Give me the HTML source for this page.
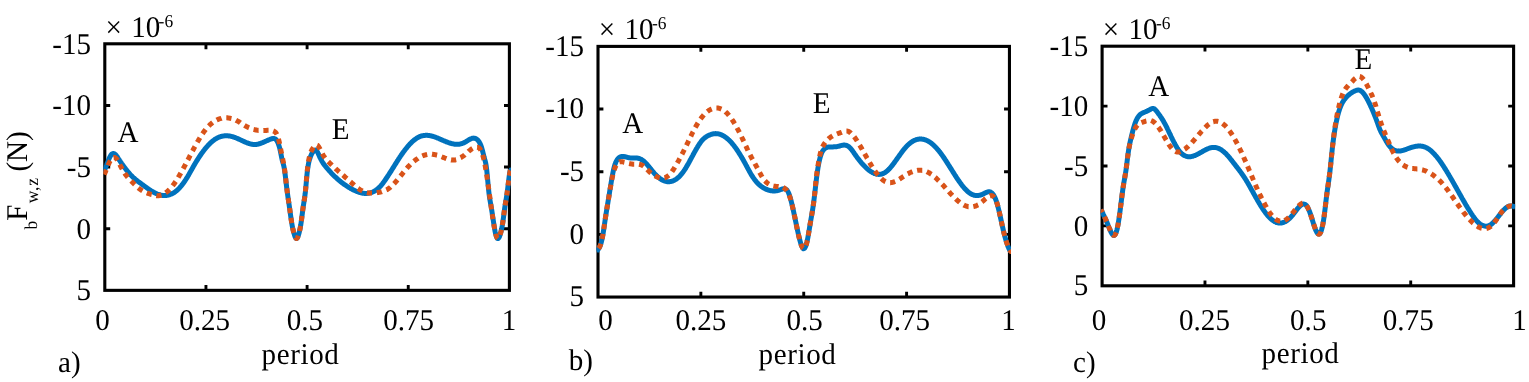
<!DOCTYPE html>
<html lang="en"><head><meta charset="utf-8"><title>Force over period</title>
<style>html,body{margin:0;padding:0;background:#fff}body{width:1529px;height:382px;overflow:hidden}svg{display:block}text{font-family:"Liberation Serif","Times New Roman",serif;fill:#000;text-rendering:geometricPrecision}</style>
</head><body>
<svg width="1529" height="382" viewBox="0 0 1529 382">
<rect x="0" y="0" width="1529" height="382" fill="#fff"/>
<g>
<rect x="104.80" y="43.80" width="404.60" height="246.55" fill="none" stroke="#000" stroke-width="3.10"/>
<path d="M205.95 290.35v-5.40M205.95 43.80v5.40M104.80 105.44h5.40M509.40 105.44h-5.40M307.10 290.35v-5.40M307.10 43.80v5.40M104.80 167.07h5.40M509.40 167.07h-5.40M408.25 290.35v-5.40M408.25 43.80v5.40M104.80 228.71h5.40M509.40 228.71h-5.40" stroke="#000" stroke-width="2.90" fill="none"/>
<clipPath id="clipa"><rect x="103.25" y="42.25" width="407.70" height="249.65"/></clipPath>
<g clip-path="url(#clipa)" fill="none" stroke-linejoin="round">
<path d="M103.2 172.6L103.7 171.8L104.2 170.8L104.7 169.8L105.2 168.6L105.7 167.4L106.2 166.1L106.7 164.8L107.2 163.4L107.7 162.1L108.2 160.8L108.7 159.6L109.2 158.4L109.7 157.3L110.2 156.3L110.7 155.5L111.2 154.8L111.7 154.2L112.2 153.9L112.7 153.6L113.2 153.5L113.7 153.5L114.2 153.7L114.7 154.0L115.2 154.3L115.7 154.8L116.2 155.4L116.7 156.0L117.2 156.8L117.7 157.5L118.2 158.3L118.7 159.1L119.2 159.8L119.7 160.6L120.2 161.3L120.7 162.1L121.2 162.8L121.7 163.6L122.2 164.3L122.7 165.0L123.2 165.7L123.7 166.4L124.2 167.0L124.7 167.7L125.2 168.4L125.7 169.0L126.2 169.7L126.7 170.3L127.2 170.9L127.7 171.5L128.2 172.1L128.7 172.7L129.2 173.3L129.7 173.8L130.2 174.4L130.7 174.9L131.2 175.4L131.7 176.0L132.2 176.5L132.7 176.9L133.2 177.4L133.7 177.9L134.2 178.3L134.7 178.8L135.2 179.2L135.7 179.6L136.2 180.0L136.7 180.4L137.2 180.8L137.7 181.2L138.2 181.6L138.7 181.9L139.2 182.3L139.7 182.7L140.2 183.0L140.7 183.4L141.2 183.7L141.7 184.1L142.2 184.5L142.7 184.8L143.2 185.2L143.7 185.6L144.2 185.9L144.7 186.3L145.2 186.6L145.7 187.0L146.2 187.4L146.7 187.7L147.2 188.1L147.7 188.4L148.2 188.8L148.7 189.1L149.2 189.5L149.7 189.8L150.2 190.1L150.7 190.5L151.2 190.8L151.7 191.1L152.2 191.4L152.7 191.7L153.2 192.0L153.7 192.3L154.2 192.5L154.7 192.8L155.2 193.1L155.7 193.3L156.2 193.5L156.7 193.8L157.2 194.0L157.7 194.2L158.2 194.4L158.7 194.5L159.2 194.7L159.7 194.8L160.2 195.0L160.7 195.1L161.2 195.2L161.7 195.3L162.2 195.4L162.7 195.4L163.2 195.5L163.7 195.5L164.2 195.5L164.7 195.5L165.2 195.5L165.7 195.5L166.2 195.4L166.7 195.4L167.2 195.3L167.7 195.2L168.2 195.1L168.7 195.0L169.2 194.9L169.7 194.7L170.2 194.5L170.7 194.3L171.2 194.1L171.7 193.9L172.2 193.6L172.7 193.4L173.2 193.1L173.7 192.8L174.2 192.5L174.7 192.1L175.2 191.8L175.7 191.4L176.2 191.0L176.7 190.6L177.2 190.2L177.7 189.7L178.2 189.2L178.7 188.7L179.2 188.2L179.7 187.7L180.2 187.1L180.7 186.6L181.2 186.0L181.7 185.3L182.2 184.7L182.7 184.0L183.2 183.4L183.7 182.7L184.2 182.0L184.7 181.2L185.2 180.5L185.7 179.7L186.2 178.9L186.7 178.1L187.2 177.3L187.7 176.5L188.2 175.6L188.7 174.8L189.2 173.9L189.7 173.0L190.2 172.1L190.7 171.2L191.2 170.4L191.7 169.5L192.2 168.6L192.7 167.7L193.2 166.8L193.7 165.9L194.2 165.1L194.7 164.2L195.2 163.4L195.7 162.5L196.2 161.7L196.7 160.9L197.2 160.1L197.7 159.3L198.2 158.5L198.7 157.7L199.2 157.0L199.7 156.2L200.2 155.5L200.7 154.8L201.2 154.0L201.7 153.3L202.2 152.6L202.7 152.0L203.2 151.3L203.7 150.6L204.2 150.0L204.7 149.4L205.2 148.7L205.7 148.1L206.2 147.5L206.7 146.9L207.2 146.4L207.7 145.8L208.2 145.3L208.7 144.8L209.2 144.2L209.7 143.7L210.2 143.3L210.7 142.8L211.2 142.3L211.7 141.9L212.2 141.5L212.7 141.0L213.2 140.6L213.7 140.3L214.2 139.9L214.7 139.5L215.2 139.2L215.7 138.9L216.2 138.6L216.7 138.3L217.2 138.0L217.7 137.8L218.2 137.5L218.7 137.3L219.2 137.1L219.7 136.9L220.2 136.7L220.7 136.6L221.2 136.4L221.7 136.3L222.2 136.2L222.7 136.1L223.2 136.0L223.7 135.9L224.2 135.9L224.7 135.8L225.2 135.8L225.7 135.8L226.2 135.8L226.7 135.8L227.2 135.8L227.7 135.8L228.2 135.9L228.7 135.9L229.2 136.0L229.7 136.1L230.2 136.1L230.7 136.2L231.2 136.4L231.7 136.5L232.2 136.6L232.7 136.8L233.2 136.9L233.7 137.1L234.2 137.2L234.7 137.4L235.2 137.6L235.7 137.8L236.2 138.0L236.7 138.2L237.2 138.4L237.7 138.6L238.2 138.9L238.7 139.1L239.2 139.3L239.7 139.5L240.2 139.8L240.7 140.0L241.2 140.2L241.7 140.5L242.2 140.7L242.7 140.9L243.2 141.2L243.7 141.4L244.2 141.6L244.7 141.9L245.2 142.1L245.7 142.3L246.2 142.5L246.7 142.7L247.2 142.9L247.7 143.1L248.2 143.3L248.7 143.4L249.2 143.6L249.7 143.7L250.2 143.9L250.7 144.0L251.2 144.1L251.7 144.2L252.2 144.3L252.7 144.4L253.2 144.4L253.7 144.5L254.2 144.5L254.7 144.5L255.2 144.5L255.7 144.5L256.2 144.4L256.7 144.4L257.2 144.3L257.7 144.2L258.2 144.1L258.7 144.0L259.2 143.8L259.7 143.7L260.2 143.5L260.7 143.3L261.2 143.2L261.7 143.0L262.2 142.8L262.7 142.6L263.2 142.4L263.7 142.1L264.2 141.9L264.7 141.7L265.2 141.5L265.7 141.2L266.2 141.0L266.7 140.8L267.2 140.6L267.7 140.4L268.2 140.1L268.7 139.9L269.2 139.7L269.7 139.5L270.2 139.3L270.7 139.1L271.2 139.0L271.7 138.8L272.2 138.7L272.7 138.5L273.2 138.5L273.7 138.5L274.2 138.5L274.7 138.7L275.2 138.9L275.7 139.3L276.2 139.8L276.7 140.4L277.2 141.3L277.7 142.2L278.2 143.4L278.7 144.8L279.2 146.4L279.7 148.2L280.2 150.3L280.7 152.7L281.2 155.2L281.7 157.7L282.2 160.0L282.7 161.9L283.2 163.7L283.7 165.6L284.2 168.0L284.7 171.2L285.2 174.9L285.7 179.1L286.2 183.4L286.7 187.6L287.2 191.5L287.7 195.2L288.2 198.6L288.7 201.9L289.2 205.3L289.7 208.9L290.2 212.5L290.7 216.2L291.2 219.6L291.7 222.9L292.2 225.7L292.7 228.2L293.2 230.4L293.7 232.4L294.2 234.1L294.7 235.7L295.2 237.0L295.7 238.0L296.2 238.5L296.7 238.5L297.2 238.0L297.7 237.1L298.2 235.8L298.7 234.2L299.2 232.5L299.7 230.4L300.2 228.1L300.7 225.3L301.2 222.0L301.7 218.3L302.2 214.4L302.7 210.5L303.2 206.8L303.7 203.6L304.2 200.5L304.7 197.2L305.2 193.4L305.7 188.7L306.2 183.1L306.7 177.5L307.2 172.5L307.7 168.5L308.2 165.3L308.7 162.7L309.2 160.7L309.7 158.9L310.2 157.4L310.7 156.1L311.2 154.9L311.7 153.9L312.2 153.0L312.7 152.2L313.2 151.5L313.7 150.9L314.2 150.4L314.7 150.1L315.2 150.0L315.7 150.1L316.2 150.4L316.7 150.9L317.2 151.6L317.7 152.5L318.2 153.5L318.7 154.6L319.2 155.8L319.7 156.9L320.2 158.0L320.7 159.0L321.2 159.9L321.7 160.8L322.2 161.7L322.7 162.5L323.2 163.3L323.7 164.0L324.2 164.7L324.7 165.4L325.2 166.0L325.7 166.6L326.2 167.2L326.7 167.8L327.2 168.4L327.7 169.0L328.2 169.6L328.7 170.1L329.2 170.7L329.7 171.3L330.2 171.8L330.7 172.3L331.2 172.9L331.7 173.4L332.2 173.9L332.7 174.4L333.2 174.9L333.7 175.4L334.2 175.9L334.7 176.4L335.2 176.9L335.7 177.3L336.2 177.8L336.7 178.3L337.2 178.7L337.7 179.2L338.2 179.6L338.7 180.0L339.2 180.4L339.7 180.9L340.2 181.3L340.7 181.7L341.2 182.1L341.7 182.5L342.2 182.8L342.7 183.2L343.2 183.6L343.7 184.0L344.2 184.3L344.7 184.7L345.2 185.0L345.7 185.4L346.2 185.7L346.7 186.0L347.2 186.4L347.7 186.7L348.2 187.0L348.7 187.3L349.2 187.6L349.7 187.9L350.2 188.2L350.7 188.5L351.2 188.8L351.7 189.0L352.2 189.3L352.7 189.6L353.2 189.8L353.7 190.1L354.2 190.3L354.7 190.5L355.2 190.8L355.7 191.0L356.2 191.2L356.7 191.4L357.2 191.6L357.7 191.8L358.2 192.0L358.7 192.2L359.2 192.3L359.7 192.5L360.2 192.6L360.7 192.8L361.2 192.9L361.7 193.0L362.2 193.1L362.7 193.2L363.2 193.2L363.7 193.3L364.2 193.4L364.7 193.4L365.2 193.4L365.7 193.4L366.2 193.4L366.7 193.4L367.2 193.4L367.7 193.3L368.2 193.3L368.7 193.2L369.2 193.1L369.7 193.0L370.2 192.9L370.7 192.7L371.2 192.6L371.7 192.4L372.2 192.2L372.7 192.0L373.2 191.8L373.7 191.5L374.2 191.3L374.7 191.0L375.2 190.7L375.7 190.3L376.2 190.0L376.7 189.6L377.2 189.2L377.7 188.8L378.2 188.4L378.7 187.9L379.2 187.5L379.7 187.0L380.2 186.4L380.7 185.9L381.2 185.3L381.7 184.7L382.2 184.1L382.7 183.5L383.2 182.8L383.7 182.1L384.2 181.4L384.7 180.7L385.2 180.0L385.7 179.3L386.2 178.5L386.7 177.8L387.2 177.0L387.7 176.3L388.2 175.5L388.7 174.7L389.2 173.9L389.7 173.2L390.2 172.4L390.7 171.6L391.2 170.8L391.7 170.0L392.2 169.2L392.7 168.4L393.2 167.6L393.7 166.8L394.2 166.0L394.7 165.2L395.2 164.4L395.7 163.6L396.2 162.8L396.7 162.0L397.2 161.2L397.7 160.5L398.2 159.7L398.7 158.9L399.2 158.1L399.7 157.4L400.2 156.6L400.7 155.9L401.2 155.2L401.7 154.4L402.2 153.7L402.7 153.0L403.2 152.3L403.7 151.6L404.2 151.0L404.7 150.3L405.2 149.6L405.7 149.0L406.2 148.4L406.7 147.8L407.2 147.1L407.7 146.5L408.2 146.0L408.7 145.4L409.2 144.8L409.7 144.3L410.2 143.8L410.7 143.2L411.2 142.7L411.7 142.3L412.2 141.8L412.7 141.3L413.2 140.9L413.7 140.5L414.2 140.0L414.7 139.7L415.2 139.3L415.7 138.9L416.2 138.6L416.7 138.2L417.2 137.9L417.7 137.6L418.2 137.4L418.7 137.1L419.2 136.9L419.7 136.6L420.2 136.4L420.7 136.3L421.2 136.1L421.7 135.9L422.2 135.8L422.7 135.7L423.2 135.6L423.7 135.5L424.2 135.4L424.7 135.4L425.2 135.4L425.7 135.3L426.2 135.3L426.7 135.3L427.2 135.3L427.7 135.4L428.2 135.4L428.7 135.5L429.2 135.5L429.7 135.6L430.2 135.7L430.7 135.8L431.2 135.9L431.7 136.1L432.2 136.2L432.7 136.3L433.2 136.5L433.7 136.6L434.2 136.8L434.7 137.0L435.2 137.1L435.7 137.3L436.2 137.5L436.7 137.7L437.2 137.9L437.7 138.1L438.2 138.3L438.7 138.5L439.2 138.7L439.7 139.0L440.2 139.2L440.7 139.4L441.2 139.6L441.7 139.8L442.2 140.1L442.7 140.3L443.2 140.5L443.7 140.7L444.2 140.9L444.7 141.1L445.2 141.3L445.7 141.5L446.2 141.8L446.7 141.9L447.2 142.1L447.7 142.3L448.2 142.5L448.7 142.7L449.2 142.9L449.7 143.0L450.2 143.2L450.7 143.3L451.2 143.5L451.7 143.6L452.2 143.7L452.7 143.8L453.2 143.9L453.7 144.0L454.2 144.1L454.7 144.2L455.2 144.2L455.7 144.3L456.2 144.3L456.7 144.3L457.2 144.3L457.7 144.3L458.2 144.3L458.7 144.2L459.2 144.2L459.7 144.1L460.2 144.0L460.7 143.9L461.2 143.8L461.7 143.6L462.2 143.5L462.7 143.3L463.2 143.1L463.7 142.9L464.2 142.6L464.7 142.4L465.2 142.1L465.7 141.8L466.2 141.5L466.7 141.2L467.2 140.9L467.7 140.6L468.2 140.2L468.7 139.9L469.2 139.6L469.7 139.4L470.2 139.1L470.7 138.9L471.2 138.7L471.7 138.5L472.2 138.3L472.7 138.2L473.2 138.2L473.7 138.1L474.2 138.2L474.7 138.3L475.2 138.4L475.7 138.6L476.2 138.9L476.7 139.2L477.2 139.6L477.7 140.1L478.2 140.6L478.7 141.3L479.2 142.0L479.7 142.9L480.2 143.9L480.7 145.0L481.2 146.3L481.7 147.8L482.2 149.6L482.7 151.5L483.2 153.5L483.7 155.5L484.2 157.5L484.7 159.3L485.2 161.0L485.7 163.1L486.2 166.0L486.7 169.8L487.2 174.8L487.7 180.3L488.2 185.8L488.7 190.8L489.2 194.9L489.7 198.3L490.2 201.3L490.7 204.1L491.2 206.9L491.7 210.0L492.2 213.2L492.7 216.5L493.2 219.9L493.7 223.2L494.2 226.4L494.7 229.3L495.2 232.0L495.7 234.2L496.2 236.0L496.7 237.3L497.2 238.2L497.7 238.6L498.2 238.5L498.7 238.0L499.2 237.2L499.7 236.0L500.2 234.5L500.7 232.8L501.2 230.8L501.7 228.6L502.2 226.0L502.7 223.0L503.2 219.6L503.7 215.8L504.2 211.9L504.7 208.2L505.2 204.9L505.7 201.9L506.2 199.0L506.7 195.9L507.2 192.4L507.7 188.6L508.2 184.4L508.7 180.3L509.2 176.4L509.7 173.2L510.2 171.0L510.7 170.2L511.2 171.1L511.4 172.0" stroke="#0072BD" stroke-width="5.00" stroke-linecap="butt"/>
<path d="M103.2 177.0L103.7 176.0L104.2 174.8L104.7 173.6L105.2 172.4L105.7 171.2L106.2 169.9L106.7 168.7L107.2 167.4L107.7 166.2L108.2 165.0L108.7 163.9L109.2 162.8L109.7 161.7L110.2 160.8L110.7 160.0L111.2 159.2L111.7 158.6L112.2 158.1L112.7 157.7L113.2 157.5L113.7 157.4L114.2 157.4L114.7 157.5L115.2 157.7L115.7 158.1L116.2 158.5L116.7 159.1L117.2 159.7L117.7 160.5L118.2 161.3L118.7 162.2L119.2 163.2L119.7 164.2L120.2 165.3L120.7 166.3L121.2 167.3L121.7 168.2L122.2 169.1L122.7 170.0L123.2 170.9L123.7 171.7L124.2 172.5L124.7 173.2L125.2 174.0L125.7 174.7L126.2 175.3L126.7 176.0L127.2 176.6L127.7 177.3L128.2 177.9L128.7 178.4L129.2 179.0L129.7 179.5L130.2 180.1L130.7 180.6L131.2 181.1L131.7 181.6L132.2 182.1L132.7 182.6L133.2 183.1L133.7 183.6L134.2 184.1L134.7 184.6L135.2 185.1L135.7 185.5L136.2 186.0L136.7 186.5L137.2 186.9L137.7 187.4L138.2 187.8L138.7 188.2L139.2 188.6L139.7 189.0L140.2 189.4L140.7 189.7L141.2 190.1L141.7 190.4L142.2 190.7L142.7 191.0L143.2 191.3L143.7 191.5L144.2 191.8L144.7 192.0L145.2 192.2L145.7 192.5L146.2 192.7L146.7 192.9L147.2 193.1L147.7 193.3L148.2 193.4L148.7 193.6L149.2 193.8L149.7 194.0L150.2 194.1L150.7 194.3L151.2 194.5L151.7 194.6L152.2 194.8L152.7 194.9L153.2 195.1L153.7 195.2L154.2 195.3L154.7 195.4L155.2 195.5L155.7 195.6L156.2 195.6L156.7 195.7L157.2 195.7L157.7 195.7L158.2 195.7L158.7 195.7L159.2 195.6L159.7 195.5L160.2 195.4L160.7 195.3L161.2 195.1L161.7 195.0L162.2 194.8L162.7 194.5L163.2 194.3L163.7 194.0L164.2 193.8L164.7 193.5L165.2 193.1L165.7 192.8L166.2 192.4L166.7 192.0L167.2 191.6L167.7 191.2L168.2 190.7L168.7 190.3L169.2 189.8L169.7 189.3L170.2 188.7L170.7 188.2L171.2 187.6L171.7 187.0L172.2 186.4L172.7 185.7L173.2 185.1L173.7 184.4L174.2 183.7L174.7 183.0L175.2 182.2L175.7 181.5L176.2 180.7L176.7 179.9L177.2 179.1L177.7 178.3L178.2 177.5L178.7 176.6L179.2 175.8L179.7 174.9L180.2 174.1L180.7 173.2L181.2 172.3L181.7 171.4L182.2 170.5L182.7 169.6L183.2 168.7L183.7 167.8L184.2 166.8L184.7 165.9L185.2 165.0L185.7 164.0L186.2 163.1L186.7 162.1L187.2 161.2L187.7 160.2L188.2 159.3L188.7 158.3L189.2 157.4L189.7 156.4L190.2 155.4L190.7 154.5L191.2 153.5L191.7 152.6L192.2 151.6L192.7 150.7L193.2 149.7L193.7 148.8L194.2 147.9L194.7 146.9L195.2 146.0L195.7 145.1L196.2 144.2L196.7 143.3L197.2 142.4L197.7 141.5L198.2 140.7L198.7 139.8L199.2 139.0L199.7 138.1L200.2 137.3L200.7 136.5L201.2 135.7L201.7 135.0L202.2 134.2L202.7 133.5L203.2 132.7L203.7 132.0L204.2 131.4L204.7 130.7L205.2 130.1L205.7 129.4L206.2 128.8L206.7 128.2L207.2 127.7L207.7 127.1L208.2 126.6L208.7 126.0L209.2 125.5L209.7 125.1L210.2 124.6L210.7 124.1L211.2 123.7L211.7 123.3L212.2 122.9L212.7 122.5L213.2 122.1L213.7 121.8L214.2 121.5L214.7 121.1L215.2 120.8L215.7 120.6L216.2 120.3L216.7 120.0L217.2 119.8L217.7 119.6L218.2 119.3L218.7 119.1L219.2 119.0L219.7 118.8L220.2 118.6L220.7 118.5L221.2 118.4L221.7 118.2L222.2 118.1L222.7 118.0L223.2 118.0L223.7 117.9L224.2 117.9L224.7 117.8L225.2 117.8L225.7 117.8L226.2 117.8L226.7 117.8L227.2 117.8L227.7 117.9L228.2 117.9L228.7 118.0L229.2 118.1L229.7 118.2L230.2 118.3L230.7 118.4L231.2 118.5L231.7 118.6L232.2 118.8L232.7 119.0L233.2 119.1L233.7 119.3L234.2 119.5L234.7 119.7L235.2 119.9L235.7 120.1L236.2 120.4L236.7 120.6L237.2 120.9L237.7 121.2L238.2 121.4L238.7 121.7L239.2 122.0L239.7 122.3L240.2 122.6L240.7 123.0L241.2 123.3L241.7 123.6L242.2 123.9L242.7 124.2L243.2 124.6L243.7 124.9L244.2 125.2L244.7 125.5L245.2 125.8L245.7 126.1L246.2 126.4L246.7 126.7L247.2 126.9L247.7 127.2L248.2 127.4L248.7 127.7L249.2 127.9L249.7 128.1L250.2 128.3L250.7 128.5L251.2 128.7L251.7 128.9L252.2 129.1L252.7 129.2L253.2 129.4L253.7 129.5L254.2 129.6L254.7 129.8L255.2 129.9L255.7 130.0L256.2 130.1L256.7 130.1L257.2 130.2L257.7 130.3L258.2 130.4L258.7 130.4L259.2 130.5L259.7 130.5L260.2 130.5L260.7 130.5L261.2 130.6L261.7 130.6L262.2 130.6L262.7 130.6L263.2 130.6L263.7 130.6L264.2 130.5L264.7 130.5L265.2 130.5L265.7 130.4L266.2 130.4L266.7 130.4L267.2 130.3L267.7 130.3L268.2 130.2L268.7 130.2L269.2 130.2L269.7 130.2L270.2 130.2L270.7 130.3L271.2 130.3L271.7 130.4L272.2 130.6L272.7 130.7L273.2 130.9L273.7 131.1L274.2 131.4L274.7 131.7L275.2 132.1L275.7 132.6L276.2 133.2L276.7 134.0L277.2 135.0L277.7 136.3L278.2 137.9L278.7 139.7L279.2 141.9L279.7 144.3L280.2 146.8L280.7 149.3L281.2 151.8L281.7 154.2L282.2 156.6L282.7 159.0L283.2 161.4L283.7 163.9L284.2 166.7L284.7 170.1L285.2 174.2L285.7 178.6L286.2 183.2L286.7 187.6L287.2 191.6L287.7 195.2L288.2 198.7L288.7 202.0L289.2 205.4L289.7 208.9L290.2 212.5L290.7 216.1L291.2 219.6L291.7 222.8L292.2 225.7L292.7 228.2L293.2 230.4L293.7 232.4L294.2 234.1L294.7 235.7L295.2 237.0L295.7 238.0L296.2 238.5L296.7 238.5L297.2 238.0L297.7 237.1L298.2 235.8L298.7 234.3L299.2 232.5L299.7 230.4L300.2 228.0L300.7 225.3L301.2 222.0L301.7 218.3L302.2 214.4L302.7 210.5L303.2 206.9L303.7 203.7L304.2 200.6L304.7 197.3L305.2 193.4L305.7 188.5L306.2 182.7L306.7 176.6L307.2 171.2L307.7 166.8L308.2 163.1L308.7 160.2L309.2 157.8L309.7 155.7L310.2 154.0L310.7 152.5L311.2 151.3L311.7 150.2L312.2 149.3L312.7 148.5L313.2 147.7L313.7 147.0L314.2 146.4L314.7 145.8L315.2 145.4L315.7 145.1L316.2 145.0L316.7 145.0L317.2 145.2L317.7 145.5L318.2 146.1L318.7 146.8L319.2 147.6L319.7 148.5L320.2 149.4L320.7 150.4L321.2 151.4L321.7 152.5L322.2 153.4L322.7 154.4L323.2 155.2L323.7 156.1L324.2 156.8L324.7 157.5L325.2 158.2L325.7 158.8L326.2 159.4L326.7 160.0L327.2 160.6L327.7 161.1L328.2 161.6L328.7 162.1L329.2 162.6L329.7 163.1L330.2 163.6L330.7 164.0L331.2 164.5L331.7 165.0L332.2 165.5L332.7 165.9L333.2 166.4L333.7 166.9L334.2 167.3L334.7 167.8L335.2 168.2L335.7 168.7L336.2 169.2L336.7 169.6L337.2 170.1L337.7 170.5L338.2 171.0L338.7 171.4L339.2 171.9L339.7 172.3L340.2 172.7L340.7 173.2L341.2 173.6L341.7 174.1L342.2 174.5L342.7 175.0L343.2 175.4L343.7 175.8L344.2 176.3L344.7 176.7L345.2 177.2L345.7 177.6L346.2 178.0L346.7 178.5L347.2 178.9L347.7 179.4L348.2 179.8L348.7 180.2L349.2 180.7L349.7 181.1L350.2 181.6L350.7 182.0L351.2 182.5L351.7 182.9L352.2 183.4L352.7 183.8L353.2 184.3L353.7 184.7L354.2 185.2L354.7 185.6L355.2 186.0L355.7 186.5L356.2 186.9L356.7 187.3L357.2 187.7L357.7 188.1L358.2 188.4L358.7 188.8L359.2 189.1L359.7 189.5L360.2 189.8L360.7 190.1L361.2 190.4L361.7 190.7L362.2 190.9L362.7 191.2L363.2 191.4L363.7 191.6L364.2 191.8L364.7 192.0L365.2 192.2L365.7 192.3L366.2 192.5L366.7 192.6L367.2 192.7L367.7 192.8L368.2 192.9L368.7 193.0L369.2 193.0L369.7 193.1L370.2 193.1L370.7 193.1L371.2 193.1L371.7 193.1L372.2 193.1L372.7 193.1L373.2 193.1L373.7 193.0L374.2 193.0L374.7 192.9L375.2 192.9L375.7 192.8L376.2 192.8L376.7 192.7L377.2 192.6L377.7 192.6L378.2 192.5L378.7 192.4L379.2 192.3L379.7 192.2L380.2 192.1L380.7 192.0L381.2 191.9L381.7 191.8L382.2 191.6L382.7 191.5L383.2 191.3L383.7 191.1L384.2 191.0L384.7 190.8L385.2 190.5L385.7 190.3L386.2 190.0L386.7 189.8L387.2 189.5L387.7 189.2L388.2 188.9L388.7 188.5L389.2 188.1L389.7 187.8L390.2 187.4L390.7 186.9L391.2 186.5L391.7 186.0L392.2 185.6L392.7 185.1L393.2 184.6L393.7 184.1L394.2 183.6L394.7 183.0L395.2 182.5L395.7 181.9L396.2 181.3L396.7 180.8L397.2 180.2L397.7 179.6L398.2 179.0L398.7 178.3L399.2 177.7L399.7 177.1L400.2 176.5L400.7 175.9L401.2 175.2L401.7 174.6L402.2 174.0L402.7 173.3L403.2 172.7L403.7 172.1L404.2 171.5L404.7 170.9L405.2 170.3L405.7 169.7L406.2 169.1L406.7 168.5L407.2 167.9L407.7 167.3L408.2 166.8L408.7 166.2L409.2 165.7L409.7 165.2L410.2 164.7L410.7 164.2L411.2 163.7L411.7 163.2L412.2 162.7L412.7 162.3L413.2 161.9L413.7 161.4L414.2 161.0L414.7 160.6L415.2 160.2L415.7 159.8L416.2 159.5L416.7 159.1L417.2 158.8L417.7 158.5L418.2 158.1L418.7 157.8L419.2 157.5L419.7 157.3L420.2 157.0L420.7 156.7L421.2 156.5L421.7 156.2L422.2 156.0L422.7 155.8L423.2 155.6L423.7 155.4L424.2 155.3L424.7 155.1L425.2 155.0L425.7 154.8L426.2 154.7L426.7 154.6L427.2 154.5L427.7 154.4L428.2 154.4L428.7 154.3L429.2 154.3L429.7 154.2L430.2 154.2L430.7 154.2L431.2 154.2L431.7 154.2L432.2 154.3L432.7 154.3L433.2 154.4L433.7 154.4L434.2 154.5L434.7 154.6L435.2 154.7L435.7 154.8L436.2 154.9L436.7 155.1L437.2 155.2L437.7 155.3L438.2 155.5L438.7 155.7L439.2 155.8L439.7 156.0L440.2 156.2L440.7 156.4L441.2 156.6L441.7 156.8L442.2 157.0L442.7 157.2L443.2 157.4L443.7 157.6L444.2 157.8L444.7 158.0L445.2 158.2L445.7 158.4L446.2 158.6L446.7 158.8L447.2 158.9L447.7 159.1L448.2 159.3L448.7 159.4L449.2 159.6L449.7 159.7L450.2 159.8L450.7 159.9L451.2 160.0L451.7 160.0L452.2 160.1L452.7 160.1L453.2 160.1L453.7 160.1L454.2 160.0L454.7 159.9L455.2 159.9L455.7 159.7L456.2 159.6L456.7 159.5L457.2 159.3L457.7 159.1L458.2 158.9L458.7 158.7L459.2 158.5L459.7 158.2L460.2 157.9L460.7 157.7L461.2 157.4L461.7 157.0L462.2 156.7L462.7 156.4L463.2 156.0L463.7 155.6L464.2 155.3L464.7 154.9L465.2 154.4L465.7 154.0L466.2 153.6L466.7 153.1L467.2 152.7L467.7 152.2L468.2 151.8L468.7 151.3L469.2 150.9L469.7 150.5L470.2 150.1L470.7 149.7L471.2 149.3L471.7 148.9L472.2 148.6L472.7 148.3L473.2 148.1L473.7 147.9L474.2 147.7L474.7 147.5L475.2 147.4L475.7 147.3L476.2 147.3L476.7 147.3L477.2 147.3L477.7 147.4L478.2 147.5L478.7 147.7L479.2 148.1L479.7 148.6L480.2 149.2L480.7 150.0L481.2 150.9L481.7 152.1L482.2 153.4L482.7 155.0L483.2 156.8L483.7 158.7L484.2 160.9L484.7 163.3L485.2 165.9L485.7 168.8L486.2 171.8L486.7 175.0L487.2 178.3L487.7 181.8L488.2 185.3L488.7 188.9L489.2 192.5L489.7 196.1L490.2 199.7L490.7 203.4L491.2 207.0L491.7 210.5L492.2 214.0L492.7 217.4L493.2 220.7L493.7 223.8L494.2 226.7L494.7 229.4L495.2 231.8L495.7 233.9L496.2 235.6L496.7 237.0L497.2 238.0L497.7 238.5L498.2 238.6L498.7 238.2L499.2 237.3L499.7 236.1L500.2 234.5L500.7 232.8L501.2 230.8L501.7 228.5L502.2 226.0L502.7 223.0L503.2 219.6L503.7 215.8L504.2 211.9L504.7 208.2L505.2 204.9L505.7 201.9L506.2 199.0L506.7 195.9L507.2 192.4L507.7 188.6L508.2 184.4L508.7 180.3L509.2 176.4L509.7 173.2L510.2 171.0L510.7 170.2L511.2 171.1L511.4 172.0" stroke="#D95319" stroke-width="5.00" stroke-dasharray="5.2 4.8" stroke-dashoffset="7.4"/>
</g>
<text font-size="29.50" transform="translate(91.00 53.80) scale(0.985 1.020)" text-anchor="end">-15</text>
<text font-size="29.50" transform="translate(91.00 115.44) scale(0.985 1.020)" text-anchor="end">-10</text>
<text font-size="29.50" transform="translate(91.00 177.07) scale(0.985 1.020)" text-anchor="end">-5</text>
<text font-size="29.50" transform="translate(91.00 238.71) scale(0.985 1.020)" text-anchor="end">0</text>
<text font-size="29.50" transform="translate(91.00 300.35) scale(0.985 1.020)" text-anchor="end">5</text>
<text font-size="29.50" transform="translate(102.55 329.90) scale(0.985 1.020)" text-anchor="middle">0</text>
<text font-size="29.50" transform="translate(204.60 329.90) scale(0.985 1.020)" text-anchor="middle">0.25</text>
<text font-size="29.50" transform="translate(304.90 329.90) scale(0.985 1.020)" text-anchor="middle">0.5</text>
<text font-size="29.50" transform="translate(408.60 329.90) scale(0.985 1.020)" text-anchor="middle">0.75</text>
<text font-size="29.50" transform="translate(509.10 329.90) scale(0.985 1.020)" text-anchor="middle">1</text>
<text font-size="29.50" transform="translate(261.60 363.50) scale(0.985 1.020)" letter-spacing="0.60">period</text>
<text font-size="29.50" transform="translate(58.00 372.00) scale(0.985 1.020)">a)</text>
<text font-size="29.50" transform="translate(117.40 141.80) scale(0.985 1.020)">A</text>
<text font-size="29.50" transform="translate(331.80 139.00) scale(0.985 1.020)">E</text>
<text font-size="29.50" transform="translate(105.50 36.70) scale(0.985 1.020)">×<tspan dx="2.00"> 10</tspan><tspan font-size="17.7" dx="-1.60" dy="-9.70">-6</tspan></text>
<text font-size="29.50" transform="translate(26.8,229.6) rotate(-90) scale(0.985 1.020)"><tspan x="0" y="10.29" font-size="17.7">b</tspan><tspan x="8.93" y="0">F</tspan><tspan x="26.80" y="10.88" font-size="17.7" letter-spacing="0.8">w,z</tspan><tspan x="51.51" y="0" letter-spacing="0"> (N)</tspan></text>
</g>
<g>
<rect x="598.00" y="46.40" width="411.45" height="250.65" fill="none" stroke="#000" stroke-width="3.10"/>
<path d="M700.86 297.05v-5.40M700.86 46.40v5.40M598.00 109.06h5.40M1009.45 109.06h-5.40M803.73 297.05v-5.40M803.73 46.40v5.40M598.00 171.72h5.40M1009.45 171.72h-5.40M906.59 297.05v-5.40M906.59 46.40v5.40M598.00 234.39h5.40M1009.45 234.39h-5.40" stroke="#000" stroke-width="2.90" fill="none"/>
<clipPath id="clipb"><rect x="596.45" y="44.85" width="414.55" height="253.75"/></clipPath>
<g clip-path="url(#clipb)" fill="none" stroke-linejoin="round">
<path d="M596.4 251.0L596.9 250.6L597.4 250.2L597.9 249.7L598.4 249.1L598.9 248.4L599.4 247.5L599.9 246.4L600.4 245.1L600.9 243.6L601.4 241.8L601.9 239.7L602.4 237.3L602.9 234.6L603.4 231.5L603.9 228.3L604.4 224.9L604.9 221.5L605.4 218.2L605.9 214.9L606.4 211.7L606.9 208.6L607.4 205.5L607.9 202.5L608.4 199.4L608.9 196.4L609.4 193.3L609.9 190.2L610.4 187.1L610.9 184.1L611.4 181.1L611.9 178.2L612.4 175.5L612.9 172.9L613.4 170.4L613.9 168.3L614.4 166.3L614.9 164.7L615.4 163.3L615.9 162.0L616.4 161.0L616.9 160.2L617.4 159.4L617.9 158.8L618.4 158.3L618.9 157.8L619.4 157.4L619.9 157.1L620.4 156.9L620.9 156.7L621.4 156.5L621.9 156.4L622.4 156.4L622.9 156.4L623.4 156.4L623.9 156.5L624.4 156.6L624.9 156.7L625.4 156.8L625.9 157.0L626.4 157.1L626.9 157.3L627.4 157.4L627.9 157.5L628.4 157.6L628.9 157.7L629.4 157.8L629.9 157.9L630.4 157.9L630.9 157.9L631.4 158.0L631.9 158.0L632.4 158.0L632.9 158.0L633.4 158.0L633.9 158.0L634.4 158.0L634.9 158.0L635.4 158.0L635.9 158.0L636.4 158.0L636.9 158.1L637.4 158.1L637.9 158.2L638.4 158.3L638.9 158.4L639.4 158.6L639.9 158.8L640.4 159.0L640.9 159.2L641.4 159.5L641.9 159.8L642.4 160.1L642.9 160.5L643.4 160.9L643.9 161.3L644.4 161.7L644.9 162.2L645.4 162.7L645.9 163.2L646.4 163.7L646.9 164.3L647.4 164.9L647.9 165.5L648.4 166.1L648.9 166.7L649.4 167.3L649.9 167.9L650.4 168.5L650.9 169.2L651.4 169.8L651.9 170.4L652.4 171.0L652.9 171.6L653.4 172.2L653.9 172.8L654.4 173.4L654.9 173.9L655.4 174.4L655.9 175.0L656.4 175.5L656.9 176.0L657.4 176.4L657.9 176.9L658.4 177.3L658.9 177.7L659.4 178.1L659.9 178.5L660.4 178.8L660.9 179.2L661.4 179.5L661.9 179.8L662.4 180.1L662.9 180.3L663.4 180.5L663.9 180.8L664.4 181.0L664.9 181.1L665.4 181.3L665.9 181.4L666.4 181.5L666.9 181.6L667.4 181.7L667.9 181.7L668.4 181.7L668.9 181.7L669.4 181.7L669.9 181.6L670.4 181.6L670.9 181.5L671.4 181.4L671.9 181.2L672.4 181.1L672.9 180.9L673.4 180.7L673.9 180.5L674.4 180.2L674.9 179.9L675.4 179.6L675.9 179.3L676.4 179.0L676.9 178.6L677.4 178.2L677.9 177.8L678.4 177.4L678.9 176.9L679.4 176.4L679.9 175.9L680.4 175.3L680.9 174.8L681.4 174.2L681.9 173.6L682.4 172.9L682.9 172.3L683.4 171.6L683.9 170.9L684.4 170.1L684.9 169.4L685.4 168.6L685.9 167.8L686.4 166.9L686.9 166.1L687.4 165.2L687.9 164.3L688.4 163.5L688.9 162.6L689.4 161.7L689.9 160.7L690.4 159.8L690.9 158.9L691.4 158.0L691.9 157.0L692.4 156.1L692.9 155.2L693.4 154.2L693.9 153.3L694.4 152.4L694.9 151.5L695.4 150.6L695.9 149.7L696.4 148.8L696.9 148.0L697.4 147.2L697.9 146.3L698.4 145.5L698.9 144.7L699.4 144.0L699.9 143.3L700.4 142.6L700.9 141.9L701.4 141.2L701.9 140.6L702.4 140.1L702.9 139.5L703.4 139.0L703.9 138.6L704.4 138.1L704.9 137.7L705.4 137.3L705.9 137.0L706.4 136.6L706.9 136.3L707.4 136.0L707.9 135.8L708.4 135.5L708.9 135.3L709.4 135.1L709.9 134.9L710.4 134.7L710.9 134.5L711.4 134.3L711.9 134.2L712.4 134.1L712.9 133.9L713.4 133.8L713.9 133.8L714.4 133.7L714.9 133.7L715.4 133.6L715.9 133.6L716.4 133.7L716.9 133.7L717.4 133.7L717.9 133.8L718.4 133.9L718.9 134.0L719.4 134.1L719.9 134.3L720.4 134.5L720.9 134.6L721.4 134.8L721.9 135.1L722.4 135.3L722.9 135.6L723.4 135.8L723.9 136.1L724.4 136.4L724.9 136.8L725.4 137.1L725.9 137.5L726.4 137.9L726.9 138.3L727.4 138.7L727.9 139.1L728.4 139.6L728.9 140.0L729.4 140.5L729.9 141.0L730.4 141.5L730.9 142.1L731.4 142.6L731.9 143.2L732.4 143.8L732.9 144.4L733.4 145.0L733.9 145.6L734.4 146.3L734.9 147.0L735.4 147.6L735.9 148.3L736.4 149.0L736.9 149.8L737.4 150.5L737.9 151.2L738.4 152.0L738.9 152.8L739.4 153.6L739.9 154.4L740.4 155.2L740.9 156.0L741.4 156.8L741.9 157.7L742.4 158.6L742.9 159.4L743.4 160.3L743.9 161.2L744.4 162.1L744.9 163.0L745.4 163.9L745.9 164.9L746.4 165.8L746.9 166.7L747.4 167.7L747.9 168.6L748.4 169.5L748.9 170.4L749.4 171.4L749.9 172.2L750.4 173.1L750.9 174.0L751.4 174.8L751.9 175.6L752.4 176.4L752.9 177.2L753.4 177.9L753.9 178.6L754.4 179.3L754.9 180.0L755.4 180.6L755.9 181.2L756.4 181.8L756.9 182.4L757.4 182.9L757.9 183.5L758.4 184.0L758.9 184.4L759.4 184.9L759.9 185.3L760.4 185.7L760.9 186.1L761.4 186.5L761.9 186.9L762.4 187.2L762.9 187.5L763.4 187.8L763.9 188.1L764.4 188.4L764.9 188.7L765.4 188.9L765.9 189.1L766.4 189.4L766.9 189.6L767.4 189.8L767.9 189.9L768.4 190.1L768.9 190.2L769.4 190.4L769.9 190.5L770.4 190.6L770.9 190.7L771.4 190.8L771.9 190.8L772.4 190.9L772.9 190.9L773.4 190.9L773.9 191.0L774.4 190.9L774.9 190.9L775.4 190.9L775.9 190.8L776.4 190.8L776.9 190.7L777.4 190.6L777.9 190.5L778.4 190.3L778.9 190.2L779.4 190.0L779.9 189.9L780.4 189.7L780.9 189.5L781.4 189.3L781.9 189.2L782.4 189.0L782.9 188.9L783.4 188.8L783.9 188.8L784.4 188.8L784.9 188.9L785.4 189.0L785.9 189.2L786.4 189.6L786.9 190.1L787.4 190.7L787.9 191.5L788.4 192.5L788.9 193.7L789.4 195.1L789.9 196.6L790.4 198.3L790.9 200.1L791.4 202.0L791.9 204.1L792.4 206.2L792.9 208.4L793.4 210.7L793.9 213.0L794.4 215.4L794.9 217.8L795.4 220.2L795.9 222.6L796.4 225.0L796.9 227.4L797.4 229.8L797.9 232.0L798.4 234.3L798.9 236.4L799.4 238.5L799.9 240.4L800.4 242.2L800.9 243.9L801.4 245.3L801.9 246.6L802.4 247.5L802.9 248.3L803.4 248.7L803.9 248.7L804.4 248.4L804.9 247.8L805.4 246.9L805.9 245.6L806.4 244.0L806.9 242.1L807.4 239.9L807.9 237.4L808.4 234.6L808.9 231.6L809.4 228.6L809.9 225.5L810.4 222.6L810.9 219.7L811.4 216.9L811.9 214.0L812.4 211.0L812.9 207.8L813.4 204.3L813.9 200.6L814.4 196.5L814.9 192.3L815.4 187.9L815.9 183.5L816.4 179.2L816.9 175.3L817.4 171.7L817.9 168.4L818.4 165.4L818.9 162.8L819.4 160.4L819.9 158.4L820.4 156.5L820.9 155.0L821.4 153.6L821.9 152.4L822.4 151.5L822.9 150.6L823.4 149.9L823.9 149.4L824.4 148.9L824.9 148.5L825.4 148.1L825.9 147.8L826.4 147.6L826.9 147.4L827.4 147.3L827.9 147.1L828.4 147.0L828.9 147.0L829.4 146.9L829.9 146.9L830.4 146.9L830.9 146.9L831.4 146.9L831.9 146.9L832.4 146.9L832.9 146.9L833.4 146.9L833.9 146.8L834.4 146.8L834.9 146.8L835.4 146.8L835.9 146.7L836.4 146.7L836.9 146.6L837.4 146.5L837.9 146.4L838.4 146.3L838.9 146.2L839.4 146.1L839.9 145.9L840.4 145.8L840.9 145.6L841.4 145.5L841.9 145.4L842.4 145.3L842.9 145.2L843.4 145.1L843.9 145.1L844.4 145.1L844.9 145.1L845.4 145.2L845.9 145.3L846.4 145.4L846.9 145.6L847.4 145.8L847.9 146.1L848.4 146.4L848.9 146.8L849.4 147.2L849.9 147.7L850.4 148.2L850.9 148.8L851.4 149.4L851.9 150.0L852.4 150.7L852.9 151.4L853.4 152.1L853.9 152.8L854.4 153.6L854.9 154.3L855.4 155.0L855.9 155.7L856.4 156.4L856.9 157.1L857.4 157.8L857.9 158.4L858.4 159.1L858.9 159.7L859.4 160.4L859.9 161.0L860.4 161.6L860.9 162.2L861.4 162.8L861.9 163.4L862.4 163.9L862.9 164.5L863.4 165.0L863.9 165.6L864.4 166.1L864.9 166.6L865.4 167.1L865.9 167.6L866.4 168.0L866.9 168.5L867.4 168.9L867.9 169.4L868.4 169.8L868.9 170.2L869.4 170.6L869.9 170.9L870.4 171.3L870.9 171.6L871.4 171.9L871.9 172.2L872.4 172.5L872.9 172.8L873.4 173.0L873.9 173.2L874.4 173.5L874.9 173.6L875.4 173.8L875.9 174.0L876.4 174.1L876.9 174.2L877.4 174.3L877.9 174.3L878.4 174.4L878.9 174.4L879.4 174.4L879.9 174.3L880.4 174.3L880.9 174.2L881.4 174.1L881.9 174.0L882.4 173.8L882.9 173.6L883.4 173.4L883.9 173.2L884.4 172.9L884.9 172.6L885.4 172.3L885.9 171.9L886.4 171.6L886.9 171.1L887.4 170.7L887.9 170.3L888.4 169.8L888.9 169.3L889.4 168.7L889.9 168.2L890.4 167.6L890.9 167.0L891.4 166.4L891.9 165.8L892.4 165.2L892.9 164.5L893.4 163.9L893.9 163.2L894.4 162.5L894.9 161.8L895.4 161.1L895.9 160.4L896.4 159.7L896.9 159.0L897.4 158.3L897.9 157.6L898.4 156.9L898.9 156.2L899.4 155.5L899.9 154.8L900.4 154.1L900.9 153.4L901.4 152.7L901.9 152.0L902.4 151.4L902.9 150.7L903.4 150.1L903.9 149.4L904.4 148.8L904.9 148.2L905.4 147.7L905.9 147.1L906.4 146.5L906.9 146.0L907.4 145.5L907.9 145.0L908.4 144.6L908.9 144.1L909.4 143.7L909.9 143.3L910.4 142.9L910.9 142.5L911.4 142.2L911.9 141.8L912.4 141.5L912.9 141.2L913.4 140.9L913.9 140.7L914.4 140.4L914.9 140.2L915.4 140.0L915.9 139.8L916.4 139.7L916.9 139.5L917.4 139.4L917.9 139.3L918.4 139.2L918.9 139.1L919.4 139.1L919.9 139.1L920.4 139.0L920.9 139.0L921.4 139.1L921.9 139.1L922.4 139.2L922.9 139.2L923.4 139.3L923.9 139.4L924.4 139.6L924.9 139.7L925.4 139.9L925.9 140.1L926.4 140.3L926.9 140.5L927.4 140.8L927.9 141.0L928.4 141.3L928.9 141.6L929.4 141.9L929.9 142.2L930.4 142.6L930.9 142.9L931.4 143.3L931.9 143.7L932.4 144.1L932.9 144.6L933.4 145.0L933.9 145.5L934.4 146.0L934.9 146.5L935.4 147.0L935.9 147.5L936.4 148.0L936.9 148.6L937.4 149.2L937.9 149.7L938.4 150.3L938.9 150.9L939.4 151.6L939.9 152.2L940.4 152.9L940.9 153.5L941.4 154.2L941.9 154.9L942.4 155.6L942.9 156.3L943.4 157.0L943.9 157.8L944.4 158.5L944.9 159.2L945.4 160.0L945.9 160.8L946.4 161.5L946.9 162.3L947.4 163.1L947.9 163.9L948.4 164.7L948.9 165.5L949.4 166.3L949.9 167.0L950.4 167.8L950.9 168.6L951.4 169.4L951.9 170.2L952.4 171.0L952.9 171.8L953.4 172.6L953.9 173.4L954.4 174.2L954.9 175.0L955.4 175.8L955.9 176.5L956.4 177.3L956.9 178.1L957.4 178.8L957.9 179.6L958.4 180.3L958.9 181.0L959.4 181.7L959.9 182.4L960.4 183.1L960.9 183.8L961.4 184.5L961.9 185.1L962.4 185.8L962.9 186.4L963.4 187.0L963.9 187.6L964.4 188.2L964.9 188.7L965.4 189.3L965.9 189.8L966.4 190.3L966.9 190.8L967.4 191.2L967.9 191.7L968.4 192.1L968.9 192.5L969.4 192.9L969.9 193.2L970.4 193.6L970.9 193.9L971.4 194.1L971.9 194.4L972.4 194.6L972.9 194.8L973.4 195.0L973.9 195.2L974.4 195.3L974.9 195.4L975.4 195.5L975.9 195.5L976.4 195.6L976.9 195.6L977.4 195.6L977.9 195.6L978.4 195.5L978.9 195.4L979.4 195.3L979.9 195.2L980.4 195.1L980.9 194.9L981.4 194.8L981.9 194.6L982.4 194.3L982.9 194.1L983.4 193.9L983.9 193.6L984.4 193.3L984.9 193.1L985.4 192.8L985.9 192.6L986.4 192.4L986.9 192.2L987.4 192.0L987.9 191.9L988.4 191.8L988.9 191.8L989.4 191.8L989.9 191.9L990.4 192.0L990.9 192.3L991.4 192.6L991.9 193.0L992.4 193.5L992.9 194.1L993.4 194.8L993.9 195.6L994.4 196.5L994.9 197.5L995.4 198.7L995.9 200.0L996.4 201.4L996.9 202.9L997.4 204.7L997.9 206.5L998.4 208.5L998.9 210.5L999.4 212.7L999.9 214.9L1000.4 217.1L1000.9 219.4L1001.4 221.7L1001.9 224.0L1002.4 226.2L1002.9 228.4L1003.4 230.6L1003.9 232.7L1004.4 234.7L1004.9 236.6L1005.4 238.4L1005.9 240.1L1006.4 241.8L1006.9 243.3L1007.4 244.8L1007.9 246.2L1008.4 247.4L1008.9 248.6L1009.4 249.5L1009.9 250.4L1010.4 251.0L1010.9 251.4L1011.0 251.5" stroke="#0072BD" stroke-width="5.00" stroke-linecap="butt"/>
<path d="M596.4 251.0L596.9 250.5L597.4 250.0L597.9 249.5L598.4 249.0L598.9 248.3L599.4 247.4L599.9 246.4L600.4 245.2L600.9 243.7L601.4 242.0L601.9 239.9L602.4 237.5L602.9 234.7L603.4 231.5L603.9 228.2L604.4 224.8L604.9 221.4L605.4 218.0L605.9 214.8L606.4 211.6L606.9 208.5L607.4 205.5L607.9 202.5L608.4 199.6L608.9 196.6L609.4 193.6L609.9 190.6L610.4 187.6L610.9 184.6L611.4 181.8L611.9 179.2L612.4 176.8L612.9 174.7L613.4 172.7L613.9 170.9L614.4 169.4L614.9 168.0L615.4 166.8L615.9 165.7L616.4 164.8L616.9 164.0L617.4 163.4L617.9 162.9L618.4 162.5L618.9 162.2L619.4 161.9L619.9 161.8L620.4 161.7L620.9 161.7L621.4 161.7L621.9 161.8L622.4 161.8L622.9 161.9L623.4 162.0L623.9 162.2L624.4 162.3L624.9 162.4L625.4 162.5L625.9 162.7L626.4 162.8L626.9 163.0L627.4 163.1L627.9 163.2L628.4 163.4L628.9 163.5L629.4 163.6L629.9 163.7L630.4 163.8L630.9 163.9L631.4 164.0L631.9 164.1L632.4 164.1L632.9 164.2L633.4 164.2L633.9 164.3L634.4 164.3L634.9 164.3L635.4 164.3L635.9 164.3L636.4 164.3L636.9 164.3L637.4 164.3L637.9 164.3L638.4 164.3L638.9 164.3L639.4 164.4L639.9 164.4L640.4 164.5L640.9 164.7L641.4 164.9L641.9 165.1L642.4 165.4L642.9 165.7L643.4 166.1L643.9 166.5L644.4 166.9L644.9 167.3L645.4 167.8L645.9 168.3L646.4 168.8L646.9 169.3L647.4 169.8L647.9 170.3L648.4 170.8L648.9 171.3L649.4 171.7L649.9 172.2L650.4 172.6L650.9 173.0L651.4 173.4L651.9 173.8L652.4 174.2L652.9 174.5L653.4 174.9L653.9 175.2L654.4 175.5L654.9 175.8L655.4 176.1L655.9 176.3L656.4 176.6L656.9 176.8L657.4 177.1L657.9 177.3L658.4 177.5L658.9 177.6L659.4 177.8L659.9 177.9L660.4 178.0L660.9 178.1L661.4 178.1L661.9 178.1L662.4 178.1L662.9 178.1L663.4 178.0L663.9 178.0L664.4 177.8L664.9 177.7L665.4 177.5L665.9 177.3L666.4 177.0L666.9 176.7L667.4 176.4L667.9 176.0L668.4 175.6L668.9 175.2L669.4 174.7L669.9 174.2L670.4 173.6L670.9 173.0L671.4 172.4L671.9 171.7L672.4 171.0L672.9 170.3L673.4 169.5L673.9 168.7L674.4 167.9L674.9 167.1L675.4 166.3L675.9 165.4L676.4 164.6L676.9 163.7L677.4 162.8L677.9 161.9L678.4 161.0L678.9 160.1L679.4 159.1L679.9 158.2L680.4 157.3L680.9 156.3L681.4 155.4L681.9 154.4L682.4 153.5L682.9 152.5L683.4 151.5L683.9 150.5L684.4 149.5L684.9 148.5L685.4 147.5L685.9 146.4L686.4 145.4L686.9 144.4L687.4 143.3L687.9 142.3L688.4 141.2L688.9 140.2L689.4 139.1L689.9 138.1L690.4 137.1L690.9 136.1L691.4 135.0L691.9 134.0L692.4 133.0L692.9 132.0L693.4 131.1L693.9 130.1L694.4 129.2L694.9 128.2L695.4 127.3L695.9 126.4L696.4 125.6L696.9 124.7L697.4 123.9L697.9 123.0L698.4 122.2L698.9 121.5L699.4 120.7L699.9 120.0L700.4 119.2L700.9 118.5L701.4 117.9L701.9 117.2L702.4 116.6L702.9 116.0L703.4 115.4L703.9 114.8L704.4 114.3L704.9 113.7L705.4 113.3L705.9 112.8L706.4 112.3L706.9 111.9L707.4 111.5L707.9 111.1L708.4 110.8L708.9 110.4L709.4 110.1L709.9 109.8L710.4 109.6L710.9 109.3L711.4 109.1L711.9 108.9L712.4 108.7L712.9 108.5L713.4 108.4L713.9 108.2L714.4 108.1L714.9 108.1L715.4 108.0L715.9 108.0L716.4 108.0L716.9 108.0L717.4 108.0L717.9 108.1L718.4 108.1L718.9 108.2L719.4 108.4L719.9 108.5L720.4 108.7L720.9 108.9L721.4 109.1L721.9 109.3L722.4 109.6L722.9 109.9L723.4 110.2L723.9 110.6L724.4 110.9L724.9 111.3L725.4 111.7L725.9 112.2L726.4 112.6L726.9 113.1L727.4 113.6L727.9 114.2L728.4 114.7L728.9 115.3L729.4 115.9L729.9 116.6L730.4 117.2L730.9 117.9L731.4 118.6L731.9 119.3L732.4 120.1L732.9 120.8L733.4 121.6L733.9 122.4L734.4 123.3L734.9 124.1L735.4 125.0L735.9 125.8L736.4 126.7L736.9 127.6L737.4 128.6L737.9 129.5L738.4 130.5L738.9 131.4L739.4 132.4L739.9 133.4L740.4 134.4L740.9 135.4L741.4 136.4L741.9 137.5L742.4 138.5L742.9 139.6L743.4 140.7L743.9 141.7L744.4 142.8L744.9 143.9L745.4 145.0L745.9 146.0L746.4 147.1L746.9 148.2L747.4 149.3L747.9 150.3L748.4 151.4L748.9 152.4L749.4 153.4L749.9 154.4L750.4 155.4L750.9 156.4L751.4 157.4L751.9 158.3L752.4 159.2L752.9 160.1L753.4 161.0L753.9 161.9L754.4 162.8L754.9 163.7L755.4 164.5L755.9 165.4L756.4 166.4L756.9 167.3L757.4 168.2L757.9 169.2L758.4 170.2L758.9 171.1L759.4 172.1L759.9 173.0L760.4 173.9L760.9 174.8L761.4 175.7L761.9 176.5L762.4 177.3L762.9 178.0L763.4 178.8L763.9 179.4L764.4 180.1L764.9 180.7L765.4 181.2L765.9 181.8L766.4 182.2L766.9 182.7L767.4 183.1L767.9 183.5L768.4 183.9L768.9 184.2L769.4 184.5L769.9 184.7L770.4 185.0L770.9 185.2L771.4 185.4L771.9 185.6L772.4 185.7L772.9 185.9L773.4 186.0L773.9 186.1L774.4 186.2L774.9 186.3L775.4 186.3L775.9 186.4L776.4 186.4L776.9 186.5L777.4 186.5L777.9 186.6L778.4 186.6L778.9 186.7L779.4 186.7L779.9 186.8L780.4 186.8L780.9 186.9L781.4 186.9L781.9 187.0L782.4 187.2L782.9 187.3L783.4 187.6L783.9 187.8L784.4 188.1L784.9 188.5L785.4 189.0L785.9 189.5L786.4 190.1L786.9 190.8L787.4 191.6L787.9 192.5L788.4 193.5L788.9 194.6L789.4 195.8L789.9 197.2L790.4 198.7L790.9 200.4L791.4 202.2L791.9 204.1L792.4 206.1L792.9 208.3L793.4 210.5L793.9 212.8L794.4 215.1L794.9 217.5L795.4 220.0L795.9 222.5L796.4 224.9L796.9 227.4L797.4 229.8L797.9 232.1L798.4 234.4L798.9 236.6L799.4 238.7L799.9 240.6L800.4 242.4L800.9 244.0L801.4 245.4L801.9 246.5L802.4 247.5L802.9 248.1L803.4 248.5L803.9 248.6L804.4 248.4L804.9 247.8L805.4 246.9L805.9 245.7L806.4 244.2L806.9 242.3L807.4 240.1L807.9 237.6L808.4 234.7L808.9 231.6L809.4 228.4L809.9 225.3L810.4 222.3L810.9 219.4L811.4 216.7L811.9 213.9L812.4 211.1L812.9 208.0L813.4 204.7L813.9 201.0L814.4 196.7L814.9 191.9L815.4 186.6L815.9 181.3L816.4 176.6L816.9 172.6L817.4 169.2L817.9 166.0L818.4 163.1L818.9 160.3L819.4 157.7L819.9 155.3L820.4 153.2L820.9 151.4L821.4 149.8L821.9 148.4L822.4 147.2L822.9 146.2L823.4 145.3L823.9 144.4L824.4 143.6L824.9 142.9L825.4 142.2L825.9 141.5L826.4 140.9L826.9 140.4L827.4 139.8L827.9 139.3L828.4 138.9L828.9 138.4L829.4 138.0L829.9 137.6L830.4 137.3L830.9 136.9L831.4 136.6L831.9 136.3L832.4 136.0L832.9 135.7L833.4 135.5L833.9 135.2L834.4 135.0L834.9 134.8L835.4 134.6L835.9 134.4L836.4 134.2L836.9 134.0L837.4 133.8L837.9 133.6L838.4 133.5L838.9 133.3L839.4 133.1L839.9 132.9L840.4 132.8L840.9 132.6L841.4 132.4L841.9 132.2L842.4 132.0L842.9 131.8L843.4 131.6L843.9 131.4L844.4 131.3L844.9 131.1L845.4 131.0L845.9 131.0L846.4 131.0L846.9 131.0L847.4 131.1L847.9 131.2L848.4 131.4L848.9 131.7L849.4 132.0L849.9 132.3L850.4 132.7L850.9 133.1L851.4 133.6L851.9 134.1L852.4 134.6L852.9 135.2L853.4 135.7L853.9 136.4L854.4 137.0L854.9 137.7L855.4 138.4L855.9 139.1L856.4 139.9L856.9 140.6L857.4 141.4L857.9 142.2L858.4 143.0L858.9 143.8L859.4 144.7L859.9 145.5L860.4 146.4L860.9 147.2L861.4 148.1L861.9 148.9L862.4 149.8L862.9 150.7L863.4 151.6L863.9 152.5L864.4 153.3L864.9 154.2L865.4 155.1L865.9 156.0L866.4 156.9L866.9 157.8L867.4 158.6L867.9 159.5L868.4 160.4L868.9 161.3L869.4 162.1L869.9 163.0L870.4 163.8L870.9 164.6L871.4 165.5L871.9 166.3L872.4 167.1L872.9 167.9L873.4 168.6L873.9 169.4L874.4 170.1L874.9 170.9L875.4 171.6L875.9 172.3L876.4 173.0L876.9 173.6L877.4 174.3L877.9 174.9L878.4 175.5L878.9 176.1L879.4 176.6L879.9 177.2L880.4 177.7L880.9 178.2L881.4 178.7L881.9 179.1L882.4 179.6L882.9 180.0L883.4 180.3L883.9 180.7L884.4 181.0L884.9 181.3L885.4 181.6L885.9 181.8L886.4 182.0L886.9 182.2L887.4 182.4L887.9 182.5L888.4 182.6L888.9 182.7L889.4 182.7L889.9 182.7L890.4 182.7L890.9 182.6L891.4 182.6L891.9 182.5L892.4 182.4L892.9 182.2L893.4 182.1L893.9 181.9L894.4 181.7L894.9 181.5L895.4 181.3L895.9 181.1L896.4 180.8L896.9 180.5L897.4 180.3L897.9 180.0L898.4 179.7L898.9 179.4L899.4 179.1L899.9 178.8L900.4 178.5L900.9 178.1L901.4 177.8L901.9 177.5L902.4 177.1L902.9 176.8L903.4 176.5L903.9 176.2L904.4 175.8L904.9 175.5L905.4 175.2L905.9 174.9L906.4 174.6L906.9 174.3L907.4 174.0L907.9 173.8L908.4 173.5L908.9 173.2L909.4 173.0L909.9 172.7L910.4 172.5L910.9 172.3L911.4 172.1L911.9 171.9L912.4 171.7L912.9 171.5L913.4 171.3L913.9 171.2L914.4 171.0L914.9 170.9L915.4 170.8L915.9 170.7L916.4 170.6L916.9 170.5L917.4 170.4L917.9 170.3L918.4 170.3L918.9 170.3L919.4 170.2L919.9 170.2L920.4 170.2L920.9 170.3L921.4 170.3L921.9 170.4L922.4 170.4L922.9 170.5L923.4 170.6L923.9 170.7L924.4 170.8L924.9 171.0L925.4 171.2L925.9 171.3L926.4 171.5L926.9 171.7L927.4 172.0L927.9 172.2L928.4 172.5L928.9 172.7L929.4 173.0L929.9 173.3L930.4 173.7L930.9 174.0L931.4 174.3L931.9 174.7L932.4 175.1L932.9 175.4L933.4 175.8L933.9 176.3L934.4 176.7L934.9 177.1L935.4 177.5L935.9 178.0L936.4 178.4L936.9 178.9L937.4 179.4L937.9 179.9L938.4 180.4L938.9 180.9L939.4 181.4L939.9 181.9L940.4 182.4L940.9 182.9L941.4 183.4L941.9 184.0L942.4 184.5L942.9 185.1L943.4 185.6L943.9 186.1L944.4 186.7L944.9 187.2L945.4 187.8L945.9 188.4L946.4 188.9L946.9 189.5L947.4 190.0L947.9 190.6L948.4 191.1L948.9 191.7L949.4 192.3L949.9 192.8L950.4 193.4L950.9 193.9L951.4 194.4L951.9 195.0L952.4 195.5L952.9 196.0L953.4 196.6L953.9 197.1L954.4 197.6L954.9 198.1L955.4 198.6L955.9 199.1L956.4 199.5L956.9 200.0L957.4 200.4L957.9 200.9L958.4 201.3L958.9 201.7L959.4 202.1L959.9 202.5L960.4 202.9L960.9 203.3L961.4 203.6L961.9 203.9L962.4 204.2L962.9 204.5L963.4 204.8L963.9 205.1L964.4 205.3L964.9 205.6L965.4 205.8L965.9 206.0L966.4 206.1L966.9 206.3L967.4 206.4L967.9 206.6L968.4 206.7L968.9 206.7L969.4 206.8L969.9 206.8L970.4 206.9L970.9 206.9L971.4 206.9L971.9 206.8L972.4 206.8L972.9 206.7L973.4 206.6L973.9 206.5L974.4 206.4L974.9 206.3L975.4 206.1L975.9 205.9L976.4 205.7L976.9 205.5L977.4 205.2L977.9 204.9L978.4 204.7L978.9 204.3L979.4 204.0L979.9 203.7L980.4 203.3L980.9 202.9L981.4 202.5L981.9 202.0L982.4 201.6L982.9 201.1L983.4 200.7L983.9 200.2L984.4 199.7L984.9 199.3L985.4 198.8L985.9 198.4L986.4 197.9L986.9 197.5L987.4 197.2L987.9 196.8L988.4 196.5L988.9 196.2L989.4 196.0L989.9 195.8L990.4 195.7L990.9 195.6L991.4 195.6L991.9 195.7L992.4 195.8L992.9 196.1L993.4 196.5L993.9 197.0L994.4 197.6L994.9 198.4L995.4 199.3L995.9 200.4L996.4 201.6L996.9 203.0L997.4 204.6L997.9 206.4L998.4 208.3L998.9 210.3L999.4 212.5L999.9 214.7L1000.4 217.0L1000.9 219.3L1001.4 221.7L1001.9 224.0L1002.4 226.3L1002.9 228.5L1003.4 230.7L1003.9 232.8L1004.4 234.7L1004.9 236.6L1005.4 238.4L1005.9 240.1L1006.4 241.7L1006.9 243.3L1007.4 244.7L1007.9 246.1L1008.4 247.4L1008.9 248.6L1009.4 249.6L1009.9 250.4L1010.4 251.1L1010.9 251.5L1011.0 251.5" stroke="#D95319" stroke-width="5.00" stroke-dasharray="5.2 4.8" stroke-dashoffset="6.5"/>
</g>
<text font-size="29.50" transform="translate(584.10 55.80) scale(0.985 1.020)" text-anchor="end">-15</text>
<text font-size="29.50" transform="translate(584.10 118.45) scale(0.985 1.020)" text-anchor="end">-10</text>
<text font-size="29.50" transform="translate(584.10 181.10) scale(0.985 1.020)" text-anchor="end">-5</text>
<text font-size="29.50" transform="translate(584.10 243.75) scale(0.985 1.020)" text-anchor="end">0</text>
<text font-size="29.50" transform="translate(584.10 306.40) scale(0.985 1.020)" text-anchor="end">5</text>
<text font-size="29.50" transform="translate(605.50 330.00) scale(0.985 1.020)" text-anchor="middle">0</text>
<text font-size="29.50" transform="translate(700.90 330.00) scale(0.985 1.020)" text-anchor="middle">0.25</text>
<text font-size="29.50" transform="translate(804.60 330.00) scale(0.985 1.020)" text-anchor="middle">0.5</text>
<text font-size="29.50" transform="translate(904.60 330.00) scale(0.985 1.020)" text-anchor="middle">0.75</text>
<text font-size="29.50" transform="translate(1008.60 330.00) scale(0.985 1.020)" text-anchor="middle">1</text>
<text font-size="29.50" transform="translate(758.60 363.50) scale(0.985 1.020)" letter-spacing="0.60">period</text>
<text font-size="29.50" transform="translate(568.70 370.10) scale(0.985 1.020)">b)</text>
<text font-size="29.50" transform="translate(622.30 132.70) scale(0.985 1.020)">A</text>
<text font-size="29.50" transform="translate(812.80 113.40) scale(0.985 1.020)">E</text>
<text font-size="29.50" transform="translate(598.80 39.00) scale(0.985 1.020)">×<tspan dx="2.00"> 10</tspan><tspan font-size="17.7" dx="-1.60" dy="-9.70">-6</tspan></text>
</g>
<g>
<rect x="1102.10" y="46.20" width="411.50" height="239.60" fill="none" stroke="#000" stroke-width="3.10"/>
<path d="M1204.97 285.80v-5.40M1204.97 46.20v5.40M1102.10 106.10h5.40M1513.60 106.10h-5.40M1307.85 285.80v-5.40M1307.85 46.20v5.40M1102.10 166.00h5.40M1513.60 166.00h-5.40M1410.72 285.80v-5.40M1410.72 46.20v5.40M1102.10 225.90h5.40M1513.60 225.90h-5.40" stroke="#000" stroke-width="2.90" fill="none"/>
<clipPath id="clipc"><rect x="1100.55" y="44.65" width="414.60" height="242.70"/></clipPath>
<g clip-path="url(#clipc)" fill="none" stroke-linejoin="round">
<path d="M1101.0 209.5L1101.5 210.6L1102.0 211.6L1102.5 212.7L1103.0 213.7L1103.5 214.8L1104.0 215.8L1104.5 216.9L1105.0 217.9L1105.5 219.0L1106.0 220.1L1106.5 221.2L1107.0 222.4L1107.5 223.6L1108.0 224.9L1108.5 226.1L1109.0 227.4L1109.5 228.6L1110.0 229.9L1110.5 231.0L1111.0 232.1L1111.5 233.0L1112.0 233.8L1112.5 234.5L1113.0 235.0L1113.5 235.3L1114.0 235.4L1114.5 235.2L1115.0 234.7L1115.5 233.9L1116.0 232.8L1116.5 231.4L1117.0 229.6L1117.5 227.4L1118.0 224.8L1118.5 221.9L1119.0 218.7L1119.5 215.2L1120.0 211.5L1120.5 207.6L1121.0 203.6L1121.5 199.6L1122.0 195.6L1122.5 191.8L1123.0 188.2L1123.5 184.9L1124.0 181.9L1124.5 179.1L1125.0 176.3L1125.5 173.4L1126.0 170.1L1126.5 166.3L1127.0 162.3L1127.5 158.3L1128.0 154.4L1128.5 150.9L1129.0 147.8L1129.5 145.1L1130.0 142.6L1130.5 140.4L1131.0 138.2L1131.5 136.1L1132.0 134.1L1132.5 132.1L1133.0 130.2L1133.5 128.3L1134.0 126.6L1134.5 125.0L1135.0 123.5L1135.5 122.2L1136.0 120.9L1136.5 119.8L1137.0 118.8L1137.5 117.9L1138.0 117.1L1138.5 116.4L1139.0 115.8L1139.5 115.2L1140.0 114.8L1140.5 114.3L1141.0 113.9L1141.5 113.6L1142.0 113.3L1142.5 113.1L1143.0 112.8L1143.5 112.6L1144.0 112.4L1144.5 112.2L1145.0 112.0L1145.5 111.8L1146.0 111.6L1146.5 111.4L1147.0 111.1L1147.5 110.9L1148.0 110.6L1148.5 110.4L1149.0 110.1L1149.5 109.8L1150.0 109.6L1150.5 109.3L1151.0 109.0L1151.5 108.8L1152.0 108.6L1152.5 108.5L1153.0 108.4L1153.5 108.5L1154.0 108.7L1154.5 109.0L1155.0 109.4L1155.5 109.9L1156.0 110.5L1156.5 111.1L1157.0 111.7L1157.5 112.4L1158.0 113.1L1158.5 113.8L1159.0 114.4L1159.5 115.1L1160.0 115.8L1160.5 116.6L1161.0 117.3L1161.5 118.0L1162.0 118.8L1162.5 119.6L1163.0 120.4L1163.5 121.3L1164.0 122.2L1164.5 123.1L1165.0 124.0L1165.5 125.0L1166.0 125.9L1166.5 126.9L1167.0 127.9L1167.5 129.0L1168.0 130.0L1168.5 131.0L1169.0 132.1L1169.5 133.1L1170.0 134.2L1170.5 135.2L1171.0 136.3L1171.5 137.3L1172.0 138.3L1172.5 139.4L1173.0 140.4L1173.5 141.4L1174.0 142.3L1174.5 143.3L1175.0 144.2L1175.5 145.1L1176.0 146.0L1176.5 146.9L1177.0 147.7L1177.5 148.5L1178.0 149.2L1178.5 150.0L1179.0 150.6L1179.5 151.3L1180.0 151.9L1180.5 152.4L1181.0 153.0L1181.5 153.4L1182.0 153.9L1182.5 154.3L1183.0 154.7L1183.5 155.0L1184.0 155.3L1184.5 155.6L1185.0 155.8L1185.5 156.0L1186.0 156.2L1186.5 156.4L1187.0 156.5L1187.5 156.6L1188.0 156.7L1188.5 156.7L1189.0 156.8L1189.5 156.8L1190.0 156.7L1190.5 156.7L1191.0 156.6L1191.5 156.5L1192.0 156.4L1192.5 156.3L1193.0 156.2L1193.5 156.0L1194.0 155.8L1194.5 155.6L1195.0 155.5L1195.5 155.2L1196.0 155.0L1196.5 154.8L1197.0 154.5L1197.5 154.3L1198.0 154.0L1198.5 153.8L1199.0 153.5L1199.5 153.2L1200.0 152.9L1200.5 152.6L1201.0 152.4L1201.5 152.1L1202.0 151.8L1202.5 151.5L1203.0 151.2L1203.5 150.9L1204.0 150.7L1204.5 150.4L1205.0 150.1L1205.5 149.9L1206.0 149.6L1206.5 149.4L1207.0 149.1L1207.5 148.9L1208.0 148.7L1208.5 148.5L1209.0 148.3L1209.5 148.1L1210.0 148.0L1210.5 147.8L1211.0 147.7L1211.5 147.6L1212.0 147.5L1212.5 147.5L1213.0 147.4L1213.5 147.4L1214.0 147.4L1214.5 147.4L1215.0 147.5L1215.5 147.5L1216.0 147.6L1216.5 147.7L1217.0 147.9L1217.5 148.0L1218.0 148.2L1218.5 148.4L1219.0 148.6L1219.5 148.9L1220.0 149.1L1220.5 149.4L1221.0 149.7L1221.5 150.0L1222.0 150.4L1222.5 150.8L1223.0 151.1L1223.5 151.5L1224.0 152.0L1224.5 152.4L1225.0 152.9L1225.5 153.3L1226.0 153.8L1226.5 154.3L1227.0 154.9L1227.5 155.4L1228.0 156.0L1228.5 156.5L1229.0 157.1L1229.5 157.7L1230.0 158.3L1230.5 159.0L1231.0 159.6L1231.5 160.2L1232.0 160.9L1232.5 161.5L1233.0 162.1L1233.5 162.8L1234.0 163.4L1234.5 164.1L1235.0 164.7L1235.5 165.4L1236.0 166.0L1236.5 166.7L1237.0 167.3L1237.5 167.9L1238.0 168.6L1238.5 169.2L1239.0 169.9L1239.5 170.6L1240.0 171.2L1240.5 171.9L1241.0 172.6L1241.5 173.3L1242.0 174.0L1242.5 174.7L1243.0 175.4L1243.5 176.2L1244.0 176.9L1244.5 177.7L1245.0 178.4L1245.5 179.2L1246.0 180.0L1246.5 180.8L1247.0 181.7L1247.5 182.5L1248.0 183.3L1248.5 184.2L1249.0 185.1L1249.5 186.0L1250.0 186.9L1250.5 187.8L1251.0 188.7L1251.5 189.6L1252.0 190.5L1252.5 191.4L1253.0 192.3L1253.5 193.2L1254.0 194.1L1254.5 195.0L1255.0 195.9L1255.5 196.8L1256.0 197.7L1256.5 198.5L1257.0 199.4L1257.5 200.3L1258.0 201.1L1258.5 202.0L1259.0 202.8L1259.5 203.7L1260.0 204.5L1260.5 205.3L1261.0 206.1L1261.5 206.9L1262.0 207.7L1262.5 208.5L1263.0 209.2L1263.5 210.0L1264.0 210.7L1264.5 211.4L1265.0 212.1L1265.5 212.8L1266.0 213.4L1266.5 214.1L1267.0 214.7L1267.5 215.3L1268.0 215.9L1268.5 216.4L1269.0 217.0L1269.5 217.5L1270.0 218.0L1270.5 218.5L1271.0 218.9L1271.5 219.4L1272.0 219.8L1272.5 220.2L1273.0 220.5L1273.5 220.9L1274.0 221.2L1274.5 221.5L1275.0 221.8L1275.5 222.0L1276.0 222.2L1276.5 222.5L1277.0 222.6L1277.5 222.8L1278.0 222.9L1278.5 223.0L1279.0 223.1L1279.5 223.1L1280.0 223.1L1280.5 223.1L1281.0 223.1L1281.5 223.0L1282.0 222.9L1282.5 222.8L1283.0 222.6L1283.5 222.4L1284.0 222.2L1284.5 222.0L1285.0 221.8L1285.5 221.5L1286.0 221.2L1286.5 220.8L1287.0 220.5L1287.5 220.1L1288.0 219.7L1288.5 219.3L1289.0 218.9L1289.5 218.4L1290.0 217.9L1290.5 217.4L1291.0 216.9L1291.5 216.3L1292.0 215.7L1292.5 215.2L1293.0 214.5L1293.5 213.9L1294.0 213.3L1294.5 212.6L1295.0 212.0L1295.5 211.3L1296.0 210.7L1296.5 210.0L1297.0 209.4L1297.5 208.7L1298.0 208.1L1298.5 207.5L1299.0 207.0L1299.5 206.5L1300.0 206.0L1300.5 205.5L1301.0 205.1L1301.5 204.8L1302.0 204.5L1302.5 204.3L1303.0 204.1L1303.5 204.0L1304.0 204.1L1304.5 204.2L1305.0 204.4L1305.5 204.7L1306.0 205.1L1306.5 205.6L1307.0 206.3L1307.5 207.1L1308.0 208.0L1308.5 209.0L1309.0 210.2L1309.5 211.4L1310.0 212.8L1310.5 214.2L1311.0 215.7L1311.5 217.2L1312.0 218.8L1312.5 220.4L1313.0 222.1L1313.5 223.7L1314.0 225.2L1314.5 226.7L1315.0 228.2L1315.5 229.5L1316.0 230.7L1316.5 231.7L1317.0 232.6L1317.5 233.3L1318.0 233.8L1318.5 234.1L1319.0 234.1L1319.5 233.9L1320.0 233.4L1320.5 232.5L1321.0 231.4L1321.5 230.0L1322.0 228.2L1322.5 226.0L1323.0 223.5L1323.5 220.6L1324.0 217.3L1324.5 213.6L1325.0 209.5L1325.5 205.2L1326.0 200.8L1326.5 196.6L1327.0 192.8L1327.5 189.2L1328.0 185.8L1328.5 182.4L1329.0 178.8L1329.5 175.0L1330.0 170.9L1330.5 166.3L1331.0 161.3L1331.5 156.3L1332.0 151.4L1332.5 146.8L1333.0 142.6L1333.5 138.8L1334.0 135.2L1334.5 131.9L1335.0 128.8L1335.5 126.0L1336.0 123.4L1336.5 120.9L1337.0 118.6L1337.5 116.5L1338.0 114.5L1338.5 112.7L1339.0 111.0L1339.5 109.4L1340.0 108.0L1340.5 106.7L1341.0 105.5L1341.5 104.4L1342.0 103.4L1342.5 102.4L1343.0 101.6L1343.5 100.8L1344.0 100.1L1344.5 99.4L1345.0 98.8L1345.5 98.2L1346.0 97.6L1346.5 97.1L1347.0 96.6L1347.5 96.1L1348.0 95.6L1348.5 95.1L1349.0 94.7L1349.5 94.3L1350.0 93.9L1350.5 93.5L1351.0 93.1L1351.5 92.8L1352.0 92.5L1352.5 92.2L1353.0 91.9L1353.5 91.6L1354.0 91.3L1354.5 91.1L1355.0 90.9L1355.5 90.7L1356.0 90.5L1356.5 90.3L1357.0 90.2L1357.5 90.1L1358.0 90.0L1358.5 90.0L1359.0 90.1L1359.5 90.2L1360.0 90.4L1360.5 90.6L1361.0 91.0L1361.5 91.3L1362.0 91.8L1362.5 92.3L1363.0 92.8L1363.5 93.4L1364.0 94.0L1364.5 94.7L1365.0 95.5L1365.5 96.2L1366.0 97.1L1366.5 97.9L1367.0 98.8L1367.5 99.7L1368.0 100.7L1368.5 101.6L1369.0 102.6L1369.5 103.7L1370.0 104.7L1370.5 105.8L1371.0 106.8L1371.5 107.9L1372.0 109.1L1372.5 110.2L1373.0 111.4L1373.5 112.5L1374.0 113.8L1374.5 115.0L1375.0 116.3L1375.5 117.5L1376.0 118.9L1376.5 120.2L1377.0 121.6L1377.5 123.0L1378.0 124.4L1378.5 125.8L1379.0 127.2L1379.5 128.5L1380.0 129.7L1380.5 130.8L1381.0 131.8L1381.5 132.8L1382.0 133.7L1382.5 134.6L1383.0 135.5L1383.5 136.4L1384.0 137.2L1384.5 138.1L1385.0 139.0L1385.5 139.9L1386.0 140.8L1386.5 141.6L1387.0 142.5L1387.5 143.3L1388.0 144.0L1388.5 144.8L1389.0 145.5L1389.5 146.1L1390.0 146.7L1390.5 147.2L1391.0 147.7L1391.5 148.2L1392.0 148.6L1392.5 149.0L1393.0 149.4L1393.5 149.7L1394.0 150.0L1394.5 150.2L1395.0 150.4L1395.5 150.6L1396.0 150.7L1396.5 150.9L1397.0 151.0L1397.5 151.0L1398.0 151.1L1398.5 151.1L1399.0 151.1L1399.5 151.0L1400.0 151.0L1400.5 150.9L1401.0 150.9L1401.5 150.8L1402.0 150.6L1402.5 150.5L1403.0 150.4L1403.5 150.2L1404.0 150.1L1404.5 149.9L1405.0 149.7L1405.5 149.6L1406.0 149.4L1406.5 149.2L1407.0 149.0L1407.5 148.8L1408.0 148.6L1408.5 148.5L1409.0 148.3L1409.5 148.1L1410.0 147.9L1410.5 147.8L1411.0 147.6L1411.5 147.4L1412.0 147.3L1412.5 147.1L1413.0 147.0L1413.5 146.9L1414.0 146.7L1414.5 146.6L1415.0 146.5L1415.5 146.4L1416.0 146.3L1416.5 146.3L1417.0 146.2L1417.5 146.1L1418.0 146.1L1418.5 146.1L1419.0 146.0L1419.5 146.0L1420.0 146.1L1420.5 146.1L1421.0 146.1L1421.5 146.2L1422.0 146.2L1422.5 146.3L1423.0 146.4L1423.5 146.6L1424.0 146.7L1424.5 146.9L1425.0 147.1L1425.5 147.3L1426.0 147.5L1426.5 147.7L1427.0 148.0L1427.5 148.3L1428.0 148.6L1428.5 148.9L1429.0 149.2L1429.5 149.6L1430.0 150.0L1430.5 150.4L1431.0 150.8L1431.5 151.2L1432.0 151.7L1432.5 152.2L1433.0 152.7L1433.5 153.2L1434.0 153.7L1434.5 154.2L1435.0 154.8L1435.5 155.4L1436.0 155.9L1436.5 156.5L1437.0 157.1L1437.5 157.8L1438.0 158.4L1438.5 159.1L1439.0 159.7L1439.5 160.4L1440.0 161.1L1440.5 161.8L1441.0 162.5L1441.5 163.2L1442.0 164.0L1442.5 164.7L1443.0 165.5L1443.5 166.2L1444.0 167.0L1444.5 167.8L1445.0 168.6L1445.5 169.4L1446.0 170.2L1446.5 171.0L1447.0 171.8L1447.5 172.7L1448.0 173.5L1448.5 174.3L1449.0 175.2L1449.5 176.0L1450.0 176.9L1450.5 177.8L1451.0 178.6L1451.5 179.5L1452.0 180.4L1452.5 181.2L1453.0 182.1L1453.5 183.0L1454.0 183.9L1454.5 184.8L1455.0 185.7L1455.5 186.6L1456.0 187.4L1456.5 188.3L1457.0 189.2L1457.5 190.1L1458.0 191.0L1458.5 191.9L1459.0 192.8L1459.5 193.7L1460.0 194.6L1460.5 195.4L1461.0 196.3L1461.5 197.2L1462.0 198.1L1462.5 199.0L1463.0 199.8L1463.5 200.7L1464.0 201.6L1464.5 202.4L1465.0 203.3L1465.5 204.1L1466.0 205.0L1466.5 205.8L1467.0 206.6L1467.5 207.5L1468.0 208.3L1468.5 209.1L1469.0 209.9L1469.5 210.7L1470.0 211.5L1470.5 212.3L1471.0 213.1L1471.5 213.9L1472.0 214.6L1472.5 215.4L1473.0 216.1L1473.5 216.8L1474.0 217.5L1474.5 218.2L1475.0 218.9L1475.5 219.5L1476.0 220.1L1476.5 220.7L1477.0 221.2L1477.5 221.8L1478.0 222.3L1478.5 222.7L1479.0 223.2L1479.5 223.6L1480.0 224.0L1480.5 224.3L1481.0 224.6L1481.5 224.9L1482.0 225.2L1482.5 225.4L1483.0 225.6L1483.5 225.8L1484.0 225.9L1484.5 226.0L1485.0 226.1L1485.5 226.2L1486.0 226.2L1486.5 226.2L1487.0 226.1L1487.5 226.0L1488.0 225.9L1488.5 225.7L1489.0 225.5L1489.5 225.3L1490.0 225.1L1490.5 224.8L1491.0 224.5L1491.5 224.1L1492.0 223.7L1492.5 223.3L1493.0 222.8L1493.5 222.3L1494.0 221.8L1494.5 221.3L1495.0 220.7L1495.5 220.1L1496.0 219.5L1496.5 218.9L1497.0 218.3L1497.5 217.6L1498.0 217.0L1498.5 216.4L1499.0 215.7L1499.5 215.1L1500.0 214.4L1500.5 213.8L1501.0 213.1L1501.5 212.5L1502.0 211.9L1502.5 211.3L1503.0 210.8L1503.5 210.2L1504.0 209.7L1504.5 209.2L1505.0 208.7L1505.5 208.2L1506.0 207.8L1506.5 207.5L1507.0 207.1L1507.5 206.8L1508.0 206.6L1508.5 206.3L1509.0 206.2L1509.5 206.0L1510.0 206.0L1510.5 205.9L1511.0 205.9L1511.5 205.9L1512.0 206.0L1512.5 206.1L1513.0 206.2L1513.5 206.4L1514.0 206.6L1514.5 206.8L1515.0 207.1L1515.4 207.3" stroke="#0072BD" stroke-width="5.00" stroke-linecap="butt"/>
<path d="M1101.0 209.5L1101.5 210.6L1102.0 211.6L1102.5 212.7L1103.0 213.7L1103.5 214.8L1104.0 215.8L1104.5 216.9L1105.0 217.9L1105.5 219.0L1106.0 220.1L1106.5 221.2L1107.0 222.4L1107.5 223.6L1108.0 224.9L1108.5 226.1L1109.0 227.4L1109.5 228.6L1110.0 229.9L1110.5 231.0L1111.0 232.1L1111.5 233.0L1112.0 233.8L1112.5 234.5L1113.0 235.0L1113.5 235.3L1114.0 235.3L1114.5 235.2L1115.0 234.7L1115.5 233.9L1116.0 232.8L1116.5 231.4L1117.0 229.6L1117.5 227.4L1118.0 224.8L1118.5 221.9L1119.0 218.7L1119.5 215.3L1120.0 211.5L1120.5 207.6L1121.0 203.6L1121.5 199.6L1122.0 195.6L1122.5 191.8L1123.0 188.2L1123.5 184.9L1124.0 181.9L1124.5 179.1L1125.0 176.3L1125.5 173.4L1126.0 170.1L1126.5 166.3L1127.0 162.3L1127.5 158.2L1128.0 154.4L1128.5 151.0L1129.0 148.1L1129.5 145.5L1130.0 143.3L1130.5 141.3L1131.0 139.6L1131.5 137.9L1132.0 136.3L1132.5 134.8L1133.0 133.4L1133.5 132.0L1134.0 130.8L1134.5 129.7L1135.0 128.7L1135.5 127.8L1136.0 127.0L1136.5 126.3L1137.0 125.7L1137.5 125.1L1138.0 124.6L1138.5 124.2L1139.0 123.8L1139.5 123.5L1140.0 123.2L1140.5 123.0L1141.0 122.8L1141.5 122.6L1142.0 122.4L1142.5 122.3L1143.0 122.1L1143.5 122.0L1144.0 121.8L1144.5 121.6L1145.0 121.4L1145.5 121.2L1146.0 121.0L1146.5 120.9L1147.0 120.7L1147.5 120.6L1148.0 120.4L1148.5 120.4L1149.0 120.3L1149.5 120.3L1150.0 120.3L1150.5 120.4L1151.0 120.5L1151.5 120.7L1152.0 120.9L1152.5 121.1L1153.0 121.4L1153.5 121.8L1154.0 122.2L1154.5 122.6L1155.0 123.1L1155.5 123.6L1156.0 124.1L1156.5 124.7L1157.0 125.3L1157.5 125.9L1158.0 126.6L1158.5 127.2L1159.0 128.0L1159.5 128.7L1160.0 129.5L1160.5 130.2L1161.0 131.0L1161.5 131.9L1162.0 132.7L1162.5 133.6L1163.0 134.4L1163.5 135.3L1164.0 136.2L1164.5 137.1L1165.0 138.0L1165.5 138.9L1166.0 139.8L1166.5 140.6L1167.0 141.5L1167.5 142.3L1168.0 143.1L1168.5 143.9L1169.0 144.7L1169.5 145.4L1170.0 146.1L1170.5 146.8L1171.0 147.5L1171.5 148.0L1172.0 148.6L1172.5 149.1L1173.0 149.6L1173.5 150.1L1174.0 150.5L1174.5 150.8L1175.0 151.2L1175.5 151.4L1176.0 151.7L1176.5 151.9L1177.0 152.0L1177.5 152.1L1178.0 152.1L1178.5 152.1L1179.0 152.1L1179.5 152.0L1180.0 151.8L1180.5 151.6L1181.0 151.4L1181.5 151.2L1182.0 150.9L1182.5 150.7L1183.0 150.3L1183.5 150.0L1184.0 149.7L1184.5 149.3L1185.0 149.0L1185.5 148.6L1186.0 148.2L1186.5 147.8L1187.0 147.3L1187.5 146.9L1188.0 146.5L1188.5 146.0L1189.0 145.5L1189.5 145.0L1190.0 144.5L1190.5 144.0L1191.0 143.5L1191.5 143.0L1192.0 142.4L1192.5 141.9L1193.0 141.3L1193.5 140.8L1194.0 140.2L1194.5 139.6L1195.0 139.1L1195.5 138.5L1196.0 137.9L1196.5 137.3L1197.0 136.7L1197.5 136.1L1198.0 135.5L1198.5 134.9L1199.0 134.3L1199.5 133.7L1200.0 133.2L1200.5 132.6L1201.0 132.0L1201.5 131.4L1202.0 130.9L1202.5 130.3L1203.0 129.8L1203.5 129.2L1204.0 128.7L1204.5 128.2L1205.0 127.7L1205.5 127.2L1206.0 126.7L1206.5 126.2L1207.0 125.8L1207.5 125.3L1208.0 124.9L1208.5 124.5L1209.0 124.1L1209.5 123.8L1210.0 123.4L1210.5 123.1L1211.0 122.8L1211.5 122.5L1212.0 122.3L1212.5 122.0L1213.0 121.8L1213.5 121.7L1214.0 121.5L1214.5 121.4L1215.0 121.3L1215.5 121.2L1216.0 121.2L1216.5 121.2L1217.0 121.2L1217.5 121.3L1218.0 121.4L1218.5 121.5L1219.0 121.7L1219.5 121.8L1220.0 122.1L1220.5 122.3L1221.0 122.6L1221.5 122.8L1222.0 123.2L1222.5 123.5L1223.0 123.9L1223.5 124.3L1224.0 124.7L1224.5 125.1L1225.0 125.6L1225.5 126.1L1226.0 126.6L1226.5 127.1L1227.0 127.7L1227.5 128.3L1228.0 128.9L1228.5 129.5L1229.0 130.2L1229.5 130.9L1230.0 131.6L1230.5 132.3L1231.0 133.0L1231.5 133.8L1232.0 134.5L1232.5 135.3L1233.0 136.1L1233.5 137.0L1234.0 137.8L1234.5 138.7L1235.0 139.6L1235.5 140.5L1236.0 141.4L1236.5 142.3L1237.0 143.3L1237.5 144.2L1238.0 145.2L1238.5 146.2L1239.0 147.2L1239.5 148.2L1240.0 149.3L1240.5 150.3L1241.0 151.4L1241.5 152.4L1242.0 153.5L1242.5 154.6L1243.0 155.7L1243.5 156.8L1244.0 158.0L1244.5 159.1L1245.0 160.2L1245.5 161.4L1246.0 162.5L1246.5 163.7L1247.0 164.8L1247.5 166.0L1248.0 167.2L1248.5 168.4L1249.0 169.6L1249.5 170.8L1250.0 171.9L1250.5 173.1L1251.0 174.3L1251.5 175.5L1252.0 176.7L1252.5 177.9L1253.0 179.1L1253.5 180.3L1254.0 181.5L1254.5 182.7L1255.0 183.8L1255.5 185.0L1256.0 186.1L1256.5 187.3L1257.0 188.4L1257.5 189.5L1258.0 190.6L1258.5 191.7L1259.0 192.8L1259.5 193.8L1260.0 194.9L1260.5 195.9L1261.0 196.9L1261.5 198.0L1262.0 199.0L1262.5 199.9L1263.0 200.9L1263.5 201.9L1264.0 202.8L1264.5 203.8L1265.0 204.7L1265.5 205.6L1266.0 206.5L1266.5 207.4L1267.0 208.3L1267.5 209.2L1268.0 210.0L1268.5 210.8L1269.0 211.6L1269.5 212.4L1270.0 213.1L1270.5 213.8L1271.0 214.5L1271.5 215.2L1272.0 215.8L1272.5 216.4L1273.0 216.9L1273.5 217.4L1274.0 217.9L1274.5 218.4L1275.0 218.8L1275.5 219.2L1276.0 219.5L1276.5 219.8L1277.0 220.1L1277.5 220.4L1278.0 220.6L1278.5 220.8L1279.0 220.9L1279.5 221.1L1280.0 221.1L1280.5 221.2L1281.0 221.2L1281.5 221.2L1282.0 221.2L1282.5 221.1L1283.0 221.0L1283.5 220.9L1284.0 220.7L1284.5 220.5L1285.0 220.2L1285.5 220.0L1286.0 219.7L1286.5 219.3L1287.0 219.0L1287.5 218.6L1288.0 218.1L1288.5 217.7L1289.0 217.2L1289.5 216.7L1290.0 216.1L1290.5 215.6L1291.0 215.0L1291.5 214.4L1292.0 213.8L1292.5 213.2L1293.0 212.6L1293.5 212.0L1294.0 211.4L1294.5 210.7L1295.0 210.1L1295.5 209.5L1296.0 208.9L1296.5 208.3L1297.0 207.7L1297.5 207.2L1298.0 206.6L1298.5 206.1L1299.0 205.6L1299.5 205.1L1300.0 204.7L1300.5 204.3L1301.0 203.9L1301.5 203.6L1302.0 203.3L1302.5 203.2L1303.0 203.1L1303.5 203.1L1304.0 203.2L1304.5 203.5L1305.0 203.8L1305.5 204.3L1306.0 204.9L1306.5 205.5L1307.0 206.3L1307.5 207.2L1308.0 208.2L1308.5 209.3L1309.0 210.4L1309.5 211.7L1310.0 213.0L1310.5 214.4L1311.0 215.8L1311.5 217.3L1312.0 218.8L1312.5 220.4L1313.0 222.0L1313.5 223.6L1314.0 225.1L1314.5 226.6L1315.0 228.0L1315.5 229.4L1316.0 230.6L1316.5 231.6L1317.0 232.5L1317.5 233.3L1318.0 233.8L1318.5 234.1L1319.0 234.2L1319.5 234.0L1320.0 233.5L1320.5 232.7L1321.0 231.6L1321.5 230.1L1322.0 228.3L1322.5 226.0L1323.0 223.4L1323.5 220.4L1324.0 217.1L1324.5 213.4L1325.0 209.4L1325.5 205.2L1326.0 201.0L1326.5 196.8L1327.0 192.9L1327.5 189.2L1328.0 185.6L1328.5 182.1L1329.0 178.6L1329.5 174.8L1330.0 170.9L1330.5 166.5L1331.0 161.7L1331.5 156.8L1332.0 151.8L1332.5 147.1L1333.0 142.5L1333.5 138.2L1334.0 134.2L1334.5 130.5L1335.0 127.0L1335.5 123.8L1336.0 120.8L1336.5 117.9L1337.0 115.3L1337.5 112.7L1338.0 110.3L1338.5 108.1L1339.0 106.0L1339.5 103.9L1340.0 102.1L1340.5 100.3L1341.0 98.7L1341.5 97.2L1342.0 95.8L1342.5 94.5L1343.0 93.3L1343.5 92.3L1344.0 91.3L1344.5 90.4L1345.0 89.6L1345.5 88.8L1346.0 88.2L1346.5 87.5L1347.0 86.9L1347.5 86.3L1348.0 85.8L1348.5 85.2L1349.0 84.7L1349.5 84.2L1350.0 83.7L1350.5 83.2L1351.0 82.7L1351.5 82.2L1352.0 81.7L1352.5 81.2L1353.0 80.7L1353.5 80.1L1354.0 79.6L1354.5 79.1L1355.0 78.6L1355.5 78.2L1356.0 77.8L1356.5 77.4L1357.0 77.1L1357.5 76.8L1358.0 76.6L1358.5 76.4L1359.0 76.4L1359.5 76.4L1360.0 76.5L1360.5 76.7L1361.0 77.0L1361.5 77.4L1362.0 77.8L1362.5 78.3L1363.0 78.8L1363.5 79.5L1364.0 80.1L1364.5 80.9L1365.0 81.6L1365.5 82.5L1366.0 83.3L1366.5 84.2L1367.0 85.2L1367.5 86.1L1368.0 87.1L1368.5 88.1L1369.0 89.1L1369.5 90.1L1370.0 91.2L1370.5 92.2L1371.0 93.3L1371.5 94.3L1372.0 95.4L1372.5 96.6L1373.0 97.8L1373.5 99.1L1374.0 100.4L1374.5 101.9L1375.0 103.5L1375.5 105.1L1376.0 106.8L1376.5 108.5L1377.0 110.3L1377.5 112.0L1378.0 113.6L1378.5 115.3L1379.0 116.9L1379.5 118.5L1380.0 120.1L1380.5 121.6L1381.0 123.1L1381.5 124.5L1382.0 125.9L1382.5 127.3L1383.0 128.6L1383.5 129.9L1384.0 131.1L1384.5 132.3L1385.0 133.5L1385.5 134.7L1386.0 135.8L1386.5 137.0L1387.0 138.2L1387.5 139.4L1388.0 140.6L1388.5 141.8L1389.0 143.0L1389.5 144.2L1390.0 145.4L1390.5 146.6L1391.0 147.8L1391.5 148.9L1392.0 150.0L1392.5 151.0L1393.0 152.0L1393.5 153.0L1394.0 153.9L1394.5 154.8L1395.0 155.7L1395.5 156.5L1396.0 157.3L1396.5 158.0L1397.0 158.7L1397.5 159.4L1398.0 160.1L1398.5 160.7L1399.0 161.3L1399.5 161.8L1400.0 162.3L1400.5 162.8L1401.0 163.3L1401.5 163.7L1402.0 164.2L1402.5 164.5L1403.0 164.9L1403.5 165.2L1404.0 165.6L1404.5 165.9L1405.0 166.1L1405.5 166.4L1406.0 166.6L1406.5 166.9L1407.0 167.1L1407.5 167.2L1408.0 167.4L1408.5 167.6L1409.0 167.7L1409.5 167.8L1410.0 168.0L1410.5 168.1L1411.0 168.2L1411.5 168.3L1412.0 168.4L1412.5 168.4L1413.0 168.5L1413.5 168.6L1414.0 168.6L1414.5 168.7L1415.0 168.7L1415.5 168.8L1416.0 168.8L1416.5 168.9L1417.0 169.0L1417.5 169.0L1418.0 169.1L1418.5 169.1L1419.0 169.2L1419.5 169.3L1420.0 169.4L1420.5 169.5L1421.0 169.6L1421.5 169.7L1422.0 169.8L1422.5 169.9L1423.0 170.1L1423.5 170.2L1424.0 170.4L1424.5 170.5L1425.0 170.7L1425.5 170.9L1426.0 171.1L1426.5 171.3L1427.0 171.6L1427.5 171.8L1428.0 172.0L1428.5 172.3L1429.0 172.6L1429.5 172.8L1430.0 173.1L1430.5 173.4L1431.0 173.7L1431.5 174.0L1432.0 174.4L1432.5 174.7L1433.0 175.0L1433.5 175.4L1434.0 175.8L1434.5 176.2L1435.0 176.6L1435.5 177.0L1436.0 177.4L1436.5 177.8L1437.0 178.2L1437.5 178.7L1438.0 179.1L1438.5 179.6L1439.0 180.1L1439.5 180.6L1440.0 181.1L1440.5 181.6L1441.0 182.1L1441.5 182.6L1442.0 183.2L1442.5 183.7L1443.0 184.3L1443.5 184.9L1444.0 185.5L1444.5 186.1L1445.0 186.7L1445.5 187.3L1446.0 187.9L1446.5 188.6L1447.0 189.2L1447.5 189.9L1448.0 190.5L1448.5 191.2L1449.0 191.9L1449.5 192.6L1450.0 193.3L1450.5 194.0L1451.0 194.7L1451.5 195.4L1452.0 196.1L1452.5 196.8L1453.0 197.5L1453.5 198.3L1454.0 199.0L1454.5 199.7L1455.0 200.4L1455.5 201.2L1456.0 201.9L1456.5 202.6L1457.0 203.3L1457.5 204.0L1458.0 204.8L1458.5 205.5L1459.0 206.2L1459.5 206.9L1460.0 207.6L1460.5 208.3L1461.0 209.0L1461.5 209.6L1462.0 210.3L1462.5 211.0L1463.0 211.6L1463.5 212.3L1464.0 212.9L1464.5 213.6L1465.0 214.2L1465.5 214.8L1466.0 215.5L1466.5 216.1L1467.0 216.7L1467.5 217.2L1468.0 217.8L1468.5 218.4L1469.0 218.9L1469.5 219.5L1470.0 220.0L1470.5 220.5L1471.0 221.1L1471.5 221.6L1472.0 222.0L1472.5 222.5L1473.0 223.0L1473.5 223.4L1474.0 223.8L1474.5 224.2L1475.0 224.6L1475.5 225.0L1476.0 225.4L1476.5 225.8L1477.0 226.1L1477.5 226.4L1478.0 226.7L1478.5 227.0L1479.0 227.3L1479.5 227.5L1480.0 227.7L1480.5 227.9L1481.0 228.1L1481.5 228.3L1482.0 228.4L1482.5 228.5L1483.0 228.6L1483.5 228.7L1484.0 228.7L1484.5 228.7L1485.0 228.7L1485.5 228.7L1486.0 228.6L1486.5 228.5L1487.0 228.4L1487.5 228.2L1488.0 228.0L1488.5 227.8L1489.0 227.5L1489.5 227.2L1490.0 226.9L1490.5 226.6L1491.0 226.2L1491.5 225.8L1492.0 225.3L1492.5 224.8L1493.0 224.3L1493.5 223.7L1494.0 223.1L1494.5 222.4L1495.0 221.7L1495.5 221.0L1496.0 220.3L1496.5 219.6L1497.0 218.8L1497.5 218.1L1498.0 217.3L1498.5 216.5L1499.0 215.8L1499.5 215.0L1500.0 214.3L1500.5 213.6L1501.0 212.9L1501.5 212.2L1502.0 211.6L1502.5 211.0L1503.0 210.4L1503.5 209.9L1504.0 209.4L1504.5 209.0L1505.0 208.5L1505.5 208.2L1506.0 207.8L1506.5 207.5L1507.0 207.2L1507.5 207.0L1508.0 206.7L1508.5 206.5L1509.0 206.3L1509.5 206.2L1510.0 206.1L1510.5 206.0L1511.0 205.9L1511.5 205.9L1512.0 206.0L1512.5 206.0L1513.0 206.1L1513.5 206.3L1514.0 206.5L1514.5 206.7L1515.0 207.0L1515.4 207.3" stroke="#D95319" stroke-width="5.00" stroke-dasharray="5.2 4.8" stroke-dashoffset="2"/>
</g>
<text font-size="29.50" transform="translate(1088.20 55.80) scale(0.985 1.020)" text-anchor="end">-15</text>
<text font-size="29.50" transform="translate(1088.20 115.70) scale(0.985 1.020)" text-anchor="end">-10</text>
<text font-size="29.50" transform="translate(1088.20 175.60) scale(0.985 1.020)" text-anchor="end">-5</text>
<text font-size="29.50" transform="translate(1088.20 235.50) scale(0.985 1.020)" text-anchor="end">0</text>
<text font-size="29.50" transform="translate(1088.20 295.40) scale(0.985 1.020)" text-anchor="end">5</text>
<text font-size="29.50" transform="translate(1099.00 330.00) scale(0.985 1.020)" text-anchor="middle">0</text>
<text font-size="29.50" transform="translate(1204.50 330.00) scale(0.985 1.020)" text-anchor="middle">0.25</text>
<text font-size="29.50" transform="translate(1308.25 330.00) scale(0.985 1.020)" text-anchor="middle">0.5</text>
<text font-size="29.50" transform="translate(1408.25 330.00) scale(0.985 1.020)" text-anchor="middle">0.75</text>
<text font-size="29.50" transform="translate(1519.50 330.00) scale(0.985 1.020)" text-anchor="middle">1</text>
<text font-size="29.50" transform="translate(1261.60 363.30) scale(0.985 1.020)" letter-spacing="0.60">period</text>
<text font-size="29.50" transform="translate(1073.10 372.00) scale(0.985 1.020)">c)</text>
<text font-size="29.50" transform="translate(1148.30 96.00) scale(0.985 1.020)">A</text>
<text font-size="29.50" transform="translate(1354.40 68.70) scale(0.985 1.020)">E</text>
<text font-size="29.50" transform="translate(1102.80 39.00) scale(0.985 1.020)">×<tspan dx="2.00"> 10</tspan><tspan font-size="17.7" dx="-1.60" dy="-9.70">-6</tspan></text>
</g>
</svg></body></html>
